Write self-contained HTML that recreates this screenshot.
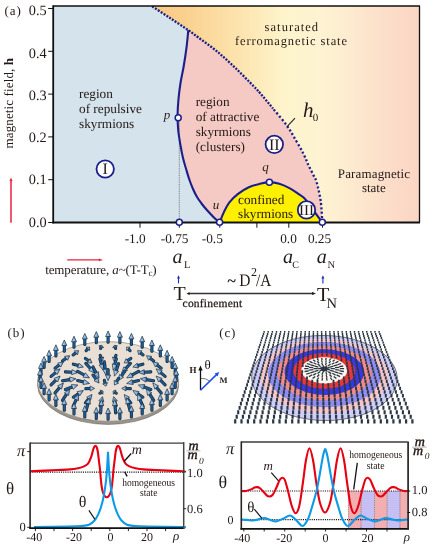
<!DOCTYPE html>
<html><head><meta charset="utf-8"><title>Skyrmion phase diagram</title>
<style>
html,body{margin:0;padding:0;background:#fff;}
svg{display:block;}
svg text{font-family:"Liberation Serif","DejaVu Serif",serif;fill:#231815;text-rendering:geometricPrecision;}
</style></head>
<body>
<svg width="433" height="550" viewBox="0 0 433 550">
<rect width="433" height="550" fill="#fff"/>
<g id="panel-a">
<defs>
<linearGradient id="bg" gradientUnits="userSpaceOnUse" x1="150" y1="0" x2="420" y2="0"><stop offset="0" stop-color="#f9c880"/><stop offset="0.12" stop-color="#fad08f"/><stop offset="0.3" stop-color="#fce1a9"/><stop offset="0.5" stop-color="#fef4cc"/><stop offset="0.63" stop-color="#fef3d2"/><stop offset="0.73" stop-color="#fdecd0"/><stop offset="0.86" stop-color="#fcdfca"/><stop offset="1" stop-color="#fbd5c4"/></linearGradient>
</defs>
<rect x="53.2" y="6.0" width="366.3" height="216.5" fill="url(#bg)"/>
<path d="M53.2,222.5 L53.2,6.0 L152.3,6 L152.30,6.50 C155.25,8.42 164.00,14.05 170.00,18.00 C176.00,21.95 185.25,28.17 188.30,30.20 C188.00,33.12 187.27,41.70 186.50,47.70 C185.73,53.70 184.70,60.32 183.70,66.20 C182.70,72.08 181.38,77.37 180.50,83.00 C179.62,88.63 178.88,94.67 178.40,100.00 C177.92,105.33 177.63,110.00 177.60,115.00 C177.57,120.00 177.72,124.93 178.20,130.00 C178.68,135.07 179.70,140.73 180.50,145.40 C181.30,150.07 182.02,153.90 183.00,158.00 C183.98,162.10 185.32,166.33 186.40,170.00 C187.48,173.67 188.40,176.83 189.50,180.00 C190.60,183.17 191.75,186.17 193.00,189.00 C194.25,191.83 195.58,194.58 197.00,197.00 C198.42,199.42 200.00,201.50 201.50,203.50 C203.00,205.50 204.42,207.17 206.00,209.00 C207.58,210.83 209.42,212.83 211.00,214.50 C212.58,216.17 214.07,217.68 215.50,219.00 C216.93,220.32 218.92,221.83 219.60,222.40 Z" fill="#d5e3ec"/>
<path d="M188.30,30.20 C190.00,31.43 193.72,34.07 198.50,37.60 C203.28,41.13 210.85,46.33 217.00,51.40 C223.15,56.47 229.25,62.15 235.40,68.00 C241.55,73.85 249.80,82.33 253.90,86.50 C258.00,90.67 256.82,89.33 260.00,93.00 C263.18,96.67 268.50,103.03 273.00,108.50 C277.50,113.97 283.17,120.47 287.00,125.80 C290.83,131.13 293.25,135.83 296.00,140.50 C298.75,145.17 301.43,149.72 303.50,153.80 C305.57,157.88 306.72,161.40 308.40,165.00 C310.08,168.60 312.22,172.48 313.60,175.40 C314.98,178.32 315.52,178.23 316.70,182.50 C317.88,186.77 319.77,194.35 320.70,201.00 C321.63,207.65 322.03,218.83 322.30,222.40 L219.6,222.4  C218.92,221.83 216.93,220.32 215.50,219.00 C214.07,217.68 212.58,216.17 211.00,214.50 C209.42,212.83 207.58,210.83 206.00,209.00 C204.42,207.17 203.00,205.50 201.50,203.50 C200.00,201.50 198.42,199.42 197.00,197.00 C195.58,194.58 194.25,191.83 193.00,189.00 C191.75,186.17 190.60,183.17 189.50,180.00 C188.40,176.83 187.48,173.67 186.40,170.00 C185.32,166.33 183.98,162.10 183.00,158.00 C182.02,153.90 181.30,150.07 180.50,145.40 C179.70,140.73 178.68,135.07 178.20,130.00 C177.72,124.93 177.57,120.00 177.60,115.00 C177.63,110.00 177.92,105.33 178.40,100.00 C178.88,94.67 179.62,88.63 180.50,83.00 C181.38,77.37 182.70,72.08 183.70,66.20 C184.70,60.32 185.73,53.70 186.50,47.70 C187.27,41.70 188.00,33.12 188.30,30.20 Z" fill="#f6cac4"/>
<path d="M219.60,222.40 C220.32,220.68 222.27,215.43 223.90,212.10 C225.53,208.77 227.10,205.40 229.40,202.40 C231.70,199.40 234.47,196.63 237.70,194.10 C240.93,191.57 245.10,188.92 248.80,187.20 C252.50,185.48 256.48,184.60 259.90,183.80 C263.32,183.00 266.07,182.40 269.30,182.40 C272.53,182.40 275.78,182.77 279.30,183.80 C282.82,184.83 287.17,186.88 290.40,188.60 C293.63,190.32 296.17,192.27 298.70,194.10 C301.23,195.93 302.60,196.13 305.60,199.60 C308.60,203.07 313.92,211.10 316.70,214.90 C319.48,218.70 321.37,221.15 322.30,222.40 Z" fill="#fff000"/>
<line x1="179.3" y1="121" x2="179.3" y2="222" stroke="#555" stroke-width="0.7" stroke-dasharray="1 0.8"/>
<path d="M188.30,30.20 C188.00,33.12 187.27,41.70 186.50,47.70 C185.73,53.70 184.70,60.32 183.70,66.20 C182.70,72.08 181.38,77.37 180.50,83.00 C179.62,88.63 178.88,94.67 178.40,100.00 C177.92,105.33 177.63,110.00 177.60,115.00 C177.57,120.00 177.72,124.93 178.20,130.00 C178.68,135.07 179.70,140.73 180.50,145.40 C181.30,150.07 182.02,153.90 183.00,158.00 C183.98,162.10 185.32,166.33 186.40,170.00 C187.48,173.67 188.40,176.83 189.50,180.00 C190.60,183.17 191.75,186.17 193.00,189.00 C194.25,191.83 195.58,194.58 197.00,197.00 C198.42,199.42 200.00,201.50 201.50,203.50 C203.00,205.50 204.42,207.17 206.00,209.00 C207.58,210.83 209.42,212.83 211.00,214.50 C212.58,216.17 214.07,217.68 215.50,219.00 C216.93,220.32 218.92,221.83 219.60,222.40" fill="none" stroke="#1b1f8a" stroke-width="2.1"/>
<path d="M219.60,222.40 C220.32,220.68 222.27,215.43 223.90,212.10 C225.53,208.77 227.10,205.40 229.40,202.40 C231.70,199.40 234.47,196.63 237.70,194.10 C240.93,191.57 245.10,188.92 248.80,187.20 C252.50,185.48 256.48,184.60 259.90,183.80 C263.32,183.00 266.07,182.40 269.30,182.40 C272.53,182.40 275.78,182.77 279.30,183.80 C282.82,184.83 287.17,186.88 290.40,188.60 C293.63,190.32 296.17,192.27 298.70,194.10 C301.23,195.93 302.60,196.13 305.60,199.60 C308.60,203.07 313.92,211.10 316.70,214.90 C319.48,218.70 321.37,221.15 322.30,222.40" fill="none" stroke="#1b1f8a" stroke-width="2.1"/>
<path d="M152.30,6.50 C155.25,8.42 164.00,14.05 170.00,18.00 C176.00,21.95 183.55,26.93 188.30,30.20 C193.05,33.47 193.72,34.07 198.50,37.60 C203.28,41.13 210.85,46.33 217.00,51.40 C223.15,56.47 229.25,62.15 235.40,68.00 C241.55,73.85 249.80,82.33 253.90,86.50 C258.00,90.67 256.82,89.33 260.00,93.00 C263.18,96.67 268.50,103.03 273.00,108.50" fill="none" stroke="#1b1f8a" stroke-width="2.3" stroke-dasharray="2 1.35"/>
<path d="M273.00,108.50 C277.50,113.97 283.17,120.47 287.00,125.80 C290.83,131.13 293.25,135.83 296.00,140.50 C298.75,145.17 301.43,149.72 303.50,153.80 C305.57,157.88 306.72,161.40 308.40,165.00 C310.08,168.60 312.22,172.48 313.60,175.40 C314.98,178.32 315.52,178.23 316.70,182.50 C317.88,186.77 319.77,194.35 320.70,201.00 C321.63,207.65 322.03,218.83 322.30,222.40" fill="none" stroke="#1b1f8a" stroke-width="2.3" stroke-dasharray="2.1 2.15" stroke-dashoffset="-1.2"/>
<line x1="53.2" y1="5.3" x2="53.2" y2="223.4" stroke="#111" stroke-width="1.8"/>
<line x1="52.3" y1="222.5" x2="420.0" y2="222.5" stroke="#111" stroke-width="1.8"/>
<line x1="53.2" y1="6.0" x2="420.0" y2="6.0" stroke="#111" stroke-width="1.4"/>
<line x1="419.5" y1="6.0" x2="419.5" y2="222.5" stroke="#111" stroke-width="1.3"/>
<line x1="48.2" y1="222.5" x2="53" y2="222.5" stroke="#111" stroke-width="1"/>
<line x1="48.2" y1="179.7" x2="53" y2="179.7" stroke="#111" stroke-width="1"/>
<line x1="48.2" y1="136.9" x2="53" y2="136.9" stroke="#111" stroke-width="1"/>
<line x1="48.2" y1="94.1" x2="53" y2="94.1" stroke="#111" stroke-width="1"/>
<line x1="48.2" y1="51.3" x2="53" y2="51.3" stroke="#111" stroke-width="1"/>
<line x1="48.2" y1="8.5" x2="53" y2="8.5" stroke="#111" stroke-width="1"/>
<text x="28.8" y="227.0" font-size="14.3">0.0</text>
<text x="28.8" y="184.0" font-size="14.3">0.1</text>
<text x="28.8" y="142.0" font-size="14.3">0.2</text>
<text x="28.8" y="100.0" font-size="14.3">0.3</text>
<text x="28.8" y="57.6" font-size="14.3">0.4</text>
<text x="28.8" y="14.5" font-size="14.3">0.5</text>
<line x1="140.0" y1="223" x2="140.0" y2="227.7" stroke="#111" stroke-width="1"/>
<line x1="179.3" y1="223" x2="179.3" y2="227.7" stroke="#111" stroke-width="1"/>
<line x1="219.8" y1="223" x2="219.8" y2="227.7" stroke="#111" stroke-width="1"/>
<line x1="256.9" y1="223" x2="256.9" y2="227.7" stroke="#111" stroke-width="1"/>
<line x1="288.8" y1="223" x2="288.8" y2="227.7" stroke="#111" stroke-width="1"/>
<line x1="322.5" y1="223" x2="322.5" y2="227.7" stroke="#111" stroke-width="1"/>
<text x="124.7" y="243.4" font-size="13.3">-1.0</text>
<text x="160.8" y="243.4" font-size="13.3">-0.75</text>
<text x="201.8" y="243.4" font-size="13.3">-0.5</text>
<text x="280.2" y="243.4" font-size="13.3">0.0</text>
<text x="307.9" y="243.4" font-size="13.3">0.25</text>
<circle cx="179.3" cy="222.2" r="3" fill="#fff" stroke="#1b1f8a" stroke-width="1.5"/>
<circle cx="219.6" cy="222.2" r="3" fill="#fff" stroke="#1b1f8a" stroke-width="1.5"/>
<circle cx="322.3" cy="222.3" r="3" fill="#fff" stroke="#1b1f8a" stroke-width="1.5"/>
<circle cx="178.2" cy="117.8" r="3" fill="#fff" stroke="#1b1f8a" stroke-width="1.5"/>
<circle cx="269.4" cy="182.3" r="3" fill="#fff" stroke="#1b1f8a" stroke-width="1.5"/>
<circle cx="105.2" cy="169.0" r="8.7" fill="#fff" stroke="#1b1f8a" stroke-width="1.8"/>
<text x="105.2" y="174.2" font-size="16" text-anchor="middle">I</text>
<circle cx="274.3" cy="144.4" r="8.7" fill="#fff" stroke="#1b1f8a" stroke-width="1.8"/>
<text x="274.3" y="149.6" font-size="16" text-anchor="middle">II</text>
<circle cx="306.5" cy="209.9" r="8.7" fill="#fff" stroke="#1b1f8a" stroke-width="1.8"/>
<text x="306.5" y="215.1" font-size="15" text-anchor="middle">III</text>
<text x="79.0" y="98.0" font-size="13.25" text-anchor="start">region</text>
<text x="79.0" y="112.7" font-size="13.25" text-anchor="start">of repulsive</text>
<text x="79.0" y="127.7" font-size="13.25" text-anchor="start">skyrmions</text>
<text x="195.7" y="106.0" font-size="13.25" text-anchor="start">region</text>
<text x="195.7" y="121.2" font-size="13.25" text-anchor="start">of attractive</text>
<text x="195.7" y="136.0" font-size="13.25" text-anchor="start">skyrmions</text>
<text x="195.7" y="150.6" font-size="13.25" text-anchor="start">(clusters)</text>
<text x="238.0" y="204.3" font-size="13.25" text-anchor="start">confined</text>
<text x="238.0" y="218.4" font-size="13.25" text-anchor="start">skyrmions</text>
<text x="264.6" y="30.8" font-size="12.5" textLength="53.5">saturated</text>
<text x="235" y="44.7" font-size="12.5" textLength="112">ferromagnetic state</text>
<text x="337.8" y="177.9" font-size="13" textLength="72.3">Paramagnetic</text>
<text x="361.9" y="191.9" font-size="13">state</text>
<text x="163.8" y="119" font-size="13" font-style="italic">p</text>
<text x="212.8" y="209.3" font-size="13" font-style="italic">u</text>
<text x="262.3" y="171" font-size="13" font-style="italic">q</text>
<text x="303" y="117" font-size="21" font-style="italic">h</text>
<text x="312.7" y="120.9" font-size="11">0</text>
<line x1="287.5" y1="126.2" x2="295" y2="118.1" stroke="#222" stroke-width="1.1"/>
<text x="4.6" y="15.2" font-size="13" textLength="16.2">(a)</text>
<text transform="translate(13.3,148.5) rotate(-90)" font-size="13" textLength="90.6">magnetic field, <tspan font-weight="bold">h</tspan></text>
<line x1="11" y1="222.8" x2="11" y2="179.5" stroke="#e9213e" stroke-width="1.5"/>
<path d="M11,177.6 L12.5,181 L9.5,181 Z" fill="#e9213e"/>
<line x1="67.2" y1="259.8" x2="100" y2="259.8" stroke="#e9213e" stroke-width="1.3"/>
<path d="M103,259.9 L98.8,258.5 L98.8,261.3 Z" fill="#e9213e"/>
<text x="45.2" y="273.5" font-size="13" textLength="111.5">temperature, <tspan font-style="italic">a</tspan>~(T-T<tspan font-size="9" dy="2">c</tspan><tspan dy="-2">)</tspan></text>
<text x="172.6" y="262.6" font-size="20" font-style="italic">a</text>
<text x="184.0" y="267.6" font-size="10.5">L</text>
<text x="283.0" y="262.6" font-size="20" font-style="italic">a</text>
<text x="292.2" y="267.6" font-size="10">C</text>
<text x="316.8" y="262.6" font-size="20" font-style="italic">a</text>
<text x="327.6" y="267.6" font-size="10.5">N</text>
<line x1="178.5" y1="283.4" x2="178.5" y2="278" stroke="#1f2fae" stroke-width="1.1"/>
<path d="M178.5,275.2 L180.0,278.6 L177.0,278.6 Z" fill="#1f2fae"/>
<line x1="322.9" y1="283.4" x2="322.9" y2="278" stroke="#1f2fae" stroke-width="1.1"/>
<path d="M322.9,275.2 L324.4,278.6 L321.4,278.6 Z" fill="#1f2fae"/>
<text x="173.6" y="300.3" font-size="20">T</text>
<text x="182.6" y="307.4" font-size="11.5" stroke="#231815" stroke-width="0.25" textLength="59.5">confinement</text>
<text x="317" y="300.8" font-size="20">T</text>
<text x="326.6" y="308.4" font-size="14.5">N</text>
<line x1="188" y1="293.5" x2="314" y2="293.5" stroke="#333" stroke-width="1.3"/>
<path d="M316,293.5 L312,292 L312,295 Z" fill="#222"/>
<path d="M186.4,293.6 L189.6,292.3 L189.6,294.9 Z" fill="#222"/>
<text x="227.6" y="286.4" font-size="16" font-weight="bold">~</text>
<text x="239.2" y="286" font-size="17.5" textLength="11.2" lengthAdjust="spacingAndGlyphs">D</text>
<text x="251" y="276.4" font-size="12">2</text>
<text x="256" y="286" font-size="17.5" textLength="15.3" lengthAdjust="spacingAndGlyphs">/A</text>
</g>
<g id="panel-b">
<text x="7.6" y="336.5" font-size="13" textLength="17">(b)</text>
<defs><linearGradient id="cg" x1="0" y1="0" x2="1" y2="0"><stop offset="0" stop-color="#c9e1f6"/><stop offset="0.55" stop-color="#8db9e1"/><stop offset="1" stop-color="#5f8fc4"/></linearGradient></defs>
<ellipse cx="108.1" cy="384.5" rx="70.6" ry="39.9" fill="#9a948e" stroke="#6b6661" stroke-width="0.6"/>
<ellipse cx="108.1" cy="381.5" rx="70.6" ry="39.9" fill="#e9dfd4" stroke="#7a756f" stroke-width="0.6"/>
<line x1="108.1" y1="342.2" x2="108.1" y2="336.6" stroke="#0f2438" stroke-width="3.1" stroke-linecap="round"/>
<line x1="108.1" y1="342.2" x2="108.1" y2="336.6" stroke="#1c5a90" stroke-width="1.9" stroke-linecap="round"/>
<path d="M108.1,331.0 L110.6,336.6 L105.6,336.6 Z" fill="url(#cg)" stroke="#13283c" stroke-width="0.7" stroke-linejoin="round"/>
<line x1="119.9" y1="342.8" x2="119.9" y2="337.2" stroke="#0f2438" stroke-width="3.1" stroke-linecap="round"/>
<line x1="119.9" y1="342.8" x2="119.9" y2="337.2" stroke="#1c5a90" stroke-width="1.9" stroke-linecap="round"/>
<path d="M119.9,331.6 L122.4,337.2 L117.4,337.2 Z" fill="url(#cg)" stroke="#13283c" stroke-width="0.7" stroke-linejoin="round"/>
<line x1="96.3" y1="342.8" x2="96.3" y2="337.2" stroke="#0f2438" stroke-width="3.1" stroke-linecap="round"/>
<line x1="96.3" y1="342.8" x2="96.3" y2="337.2" stroke="#1c5a90" stroke-width="1.9" stroke-linecap="round"/>
<path d="M96.3,331.6 L98.8,337.2 L93.8,337.2 Z" fill="url(#cg)" stroke="#13283c" stroke-width="0.7" stroke-linejoin="round"/>
<line x1="131.4" y1="344.5" x2="131.4" y2="338.9" stroke="#0f2438" stroke-width="3.1" stroke-linecap="round"/>
<line x1="131.4" y1="344.5" x2="131.4" y2="338.9" stroke="#1c5a90" stroke-width="1.9" stroke-linecap="round"/>
<path d="M131.4,333.4 L133.9,338.9 L128.9,338.9 Z" fill="url(#cg)" stroke="#13283c" stroke-width="0.7" stroke-linejoin="round"/>
<line x1="84.8" y1="344.5" x2="84.8" y2="338.9" stroke="#0f2438" stroke-width="3.1" stroke-linecap="round"/>
<line x1="84.8" y1="344.5" x2="84.8" y2="338.9" stroke="#1c5a90" stroke-width="1.9" stroke-linecap="round"/>
<path d="M84.8,333.4 L87.3,338.9 L82.3,338.9 Z" fill="url(#cg)" stroke="#13283c" stroke-width="0.7" stroke-linejoin="round"/>
<line x1="74.0" y1="347.3" x2="74.0" y2="341.8" stroke="#0f2438" stroke-width="3.1" stroke-linecap="round"/>
<line x1="74.0" y1="347.3" x2="74.0" y2="341.8" stroke="#1c5a90" stroke-width="1.9" stroke-linecap="round"/>
<path d="M74.0,336.2 L76.5,341.8 L71.5,341.8 Z" fill="url(#cg)" stroke="#13283c" stroke-width="0.7" stroke-linejoin="round"/>
<line x1="142.2" y1="347.3" x2="142.2" y2="341.8" stroke="#0f2438" stroke-width="3.1" stroke-linecap="round"/>
<line x1="142.2" y1="347.3" x2="142.2" y2="341.8" stroke="#1c5a90" stroke-width="1.9" stroke-linecap="round"/>
<path d="M142.2,336.2 L144.7,341.8 L139.7,341.8 Z" fill="url(#cg)" stroke="#13283c" stroke-width="0.7" stroke-linejoin="round"/>
<line x1="115.6" y1="348.5" x2="115.0" y2="346.9" stroke="#0f2438" stroke-width="3.1" stroke-linecap="round"/>
<line x1="115.6" y1="348.5" x2="115.0" y2="346.9" stroke="#1c5a90" stroke-width="1.9" stroke-linecap="round"/>
<path d="M114.4,345.3 L117.4,346.0 L112.7,347.7 Z" fill="url(#cg)" stroke="#13283c" stroke-width="0.7" stroke-linejoin="round"/>
<line x1="100.6" y1="348.5" x2="101.2" y2="346.9" stroke="#0f2438" stroke-width="3.1" stroke-linecap="round"/>
<line x1="100.6" y1="348.5" x2="101.2" y2="346.9" stroke="#1c5a90" stroke-width="1.9" stroke-linecap="round"/>
<path d="M101.8,345.3 L103.5,347.7 L98.8,346.0 Z" fill="url(#cg)" stroke="#13283c" stroke-width="0.7" stroke-linejoin="round"/>
<line x1="151.9" y1="351.2" x2="151.9" y2="345.6" stroke="#0f2438" stroke-width="3.1" stroke-linecap="round"/>
<line x1="151.9" y1="351.2" x2="151.9" y2="345.6" stroke="#1c5a90" stroke-width="1.9" stroke-linecap="round"/>
<path d="M151.9,340.0 L154.4,345.6 L149.4,345.6 Z" fill="url(#cg)" stroke="#13283c" stroke-width="0.7" stroke-linejoin="round"/>
<line x1="64.3" y1="351.2" x2="64.3" y2="345.6" stroke="#0f2438" stroke-width="3.1" stroke-linecap="round"/>
<line x1="64.3" y1="351.2" x2="64.3" y2="345.6" stroke="#1c5a90" stroke-width="1.9" stroke-linecap="round"/>
<path d="M64.3,340.0 L66.8,345.6 L61.8,345.6 Z" fill="url(#cg)" stroke="#13283c" stroke-width="0.7" stroke-linejoin="round"/>
<line x1="86.1" y1="350.7" x2="87.8" y2="348.9" stroke="#0f2438" stroke-width="3.1" stroke-linecap="round"/>
<line x1="86.1" y1="350.7" x2="87.8" y2="348.9" stroke="#1c5a90" stroke-width="1.9" stroke-linecap="round"/>
<path d="M89.6,347.1 L89.6,350.6 L86.0,347.1 Z" fill="url(#cg)" stroke="#13283c" stroke-width="0.7" stroke-linejoin="round"/>
<line x1="130.1" y1="350.7" x2="128.4" y2="348.9" stroke="#0f2438" stroke-width="3.1" stroke-linecap="round"/>
<line x1="130.1" y1="350.7" x2="128.4" y2="348.9" stroke="#1c5a90" stroke-width="1.9" stroke-linecap="round"/>
<path d="M126.6,347.1 L130.2,347.1 L126.6,350.6 Z" fill="url(#cg)" stroke="#13283c" stroke-width="0.7" stroke-linejoin="round"/>
<line x1="55.9" y1="355.9" x2="55.9" y2="350.4" stroke="#0f2438" stroke-width="3.1" stroke-linecap="round"/>
<line x1="55.9" y1="355.9" x2="55.9" y2="350.4" stroke="#1c5a90" stroke-width="1.9" stroke-linecap="round"/>
<path d="M55.9,344.8 L58.4,350.4 L53.4,350.4 Z" fill="url(#cg)" stroke="#13283c" stroke-width="0.7" stroke-linejoin="round"/>
<line x1="160.3" y1="355.9" x2="160.3" y2="350.4" stroke="#0f2438" stroke-width="3.1" stroke-linecap="round"/>
<line x1="160.3" y1="355.9" x2="160.3" y2="350.4" stroke="#1c5a90" stroke-width="1.9" stroke-linecap="round"/>
<path d="M160.3,344.8 L162.8,350.4 L157.8,350.4 Z" fill="url(#cg)" stroke="#13283c" stroke-width="0.7" stroke-linejoin="round"/>
<line x1="143.1" y1="354.9" x2="140.3" y2="352.8" stroke="#0f2438" stroke-width="3.1" stroke-linecap="round"/>
<line x1="143.1" y1="354.9" x2="140.3" y2="352.8" stroke="#1c5a90" stroke-width="1.9" stroke-linecap="round"/>
<path d="M137.6,350.7 L141.9,350.8 L138.8,354.8 Z" fill="url(#cg)" stroke="#13283c" stroke-width="0.7" stroke-linejoin="round"/>
<line x1="73.1" y1="354.9" x2="75.9" y2="352.8" stroke="#0f2438" stroke-width="3.1" stroke-linecap="round"/>
<line x1="73.1" y1="354.9" x2="75.9" y2="352.8" stroke="#1c5a90" stroke-width="1.9" stroke-linecap="round"/>
<path d="M78.6,350.7 L77.4,354.8 L74.3,350.8 Z" fill="url(#cg)" stroke="#13283c" stroke-width="0.7" stroke-linejoin="round"/>
<line x1="116.0" y1="355.4" x2="114.8" y2="358.1" stroke="#0f2438" stroke-width="3.1" stroke-linecap="round"/>
<line x1="116.0" y1="355.4" x2="114.8" y2="358.1" stroke="#1c5a90" stroke-width="1.9" stroke-linecap="round"/>
<path d="M113.7,360.8 L112.5,357.1 L117.1,359.1 Z" fill="url(#cg)" stroke="#13283c" stroke-width="0.7" stroke-linejoin="round"/>
<line x1="100.2" y1="355.4" x2="101.4" y2="358.1" stroke="#0f2438" stroke-width="3.1" stroke-linecap="round"/>
<line x1="100.2" y1="355.4" x2="101.4" y2="358.1" stroke="#1c5a90" stroke-width="1.9" stroke-linecap="round"/>
<path d="M102.5,360.8 L99.1,359.1 L103.7,357.1 Z" fill="url(#cg)" stroke="#13283c" stroke-width="0.7" stroke-linejoin="round"/>
<line x1="49.1" y1="361.4" x2="49.1" y2="355.9" stroke="#0f2438" stroke-width="3.1" stroke-linecap="round"/>
<line x1="49.1" y1="361.4" x2="49.1" y2="355.9" stroke="#1c5a90" stroke-width="1.9" stroke-linecap="round"/>
<path d="M49.1,350.3 L51.6,355.9 L46.6,355.9 Z" fill="url(#cg)" stroke="#13283c" stroke-width="0.7" stroke-linejoin="round"/>
<line x1="167.1" y1="361.4" x2="167.1" y2="355.9" stroke="#0f2438" stroke-width="3.1" stroke-linecap="round"/>
<line x1="167.1" y1="361.4" x2="167.1" y2="355.9" stroke="#1c5a90" stroke-width="1.9" stroke-linecap="round"/>
<path d="M167.1,350.3 L169.6,355.9 L164.6,355.9 Z" fill="url(#cg)" stroke="#13283c" stroke-width="0.7" stroke-linejoin="round"/>
<line x1="85.4" y1="358.4" x2="88.7" y2="360.7" stroke="#0f2438" stroke-width="3.1" stroke-linecap="round"/>
<line x1="85.4" y1="358.4" x2="88.7" y2="360.7" stroke="#1c5a90" stroke-width="1.9" stroke-linecap="round"/>
<path d="M92.0,363.0 L87.3,362.8 L90.1,358.6 Z" fill="url(#cg)" stroke="#13283c" stroke-width="0.7" stroke-linejoin="round"/>
<line x1="130.8" y1="358.4" x2="127.5" y2="360.7" stroke="#0f2438" stroke-width="3.1" stroke-linecap="round"/>
<line x1="130.8" y1="358.4" x2="127.5" y2="360.7" stroke="#1c5a90" stroke-width="1.9" stroke-linecap="round"/>
<path d="M124.2,363.0 L126.1,358.6 L128.9,362.8 Z" fill="url(#cg)" stroke="#13283c" stroke-width="0.7" stroke-linejoin="round"/>
<line x1="62.5" y1="360.9" x2="66.1" y2="358.3" stroke="#0f2438" stroke-width="3.1" stroke-linecap="round"/>
<line x1="62.5" y1="360.9" x2="66.1" y2="358.3" stroke="#1c5a90" stroke-width="1.9" stroke-linecap="round"/>
<path d="M69.7,355.7 L67.6,360.3 L64.6,356.3 Z" fill="url(#cg)" stroke="#13283c" stroke-width="0.7" stroke-linejoin="round"/>
<line x1="153.7" y1="360.9" x2="150.1" y2="358.3" stroke="#0f2438" stroke-width="3.1" stroke-linecap="round"/>
<line x1="153.7" y1="360.9" x2="150.1" y2="358.3" stroke="#1c5a90" stroke-width="1.9" stroke-linecap="round"/>
<path d="M146.5,355.7 L151.6,356.3 L148.6,360.3 Z" fill="url(#cg)" stroke="#13283c" stroke-width="0.7" stroke-linejoin="round"/>
<line x1="73.3" y1="364.2" x2="78.4" y2="365.6" stroke="#0f2438" stroke-width="3.1" stroke-linecap="round"/>
<line x1="73.3" y1="364.2" x2="78.4" y2="365.6" stroke="#1c5a90" stroke-width="1.9" stroke-linecap="round"/>
<path d="M83.4,367.0 L77.7,368.0 L79.0,363.2 Z" fill="url(#cg)" stroke="#13283c" stroke-width="0.7" stroke-linejoin="round"/>
<line x1="142.9" y1="364.2" x2="137.8" y2="365.6" stroke="#0f2438" stroke-width="3.1" stroke-linecap="round"/>
<line x1="142.9" y1="364.2" x2="137.8" y2="365.6" stroke="#1c5a90" stroke-width="1.9" stroke-linecap="round"/>
<path d="M132.8,367.0 L137.2,363.2 L138.5,368.0 Z" fill="url(#cg)" stroke="#13283c" stroke-width="0.7" stroke-linejoin="round"/>
<line x1="116.3" y1="358.8" x2="114.7" y2="364.4" stroke="#0f2438" stroke-width="3.1" stroke-linecap="round"/>
<line x1="116.3" y1="358.8" x2="114.7" y2="364.4" stroke="#1c5a90" stroke-width="1.9" stroke-linecap="round"/>
<path d="M113.1,370.1 L112.3,363.8 L117.1,365.1 Z" fill="url(#cg)" stroke="#13283c" stroke-width="0.7" stroke-linejoin="round"/>
<line x1="99.9" y1="358.8" x2="101.5" y2="364.4" stroke="#0f2438" stroke-width="3.1" stroke-linecap="round"/>
<line x1="99.9" y1="358.8" x2="101.5" y2="364.4" stroke="#1c5a90" stroke-width="1.9" stroke-linecap="round"/>
<path d="M103.1,370.1 L99.1,365.1 L103.9,363.8 Z" fill="url(#cg)" stroke="#13283c" stroke-width="0.7" stroke-linejoin="round"/>
<line x1="44.1" y1="367.5" x2="44.1" y2="361.9" stroke="#0f2438" stroke-width="3.1" stroke-linecap="round"/>
<line x1="44.1" y1="367.5" x2="44.1" y2="361.9" stroke="#1c5a90" stroke-width="1.9" stroke-linecap="round"/>
<path d="M44.1,356.4 L46.6,361.9 L41.6,361.9 Z" fill="url(#cg)" stroke="#13283c" stroke-width="0.7" stroke-linejoin="round"/>
<line x1="172.1" y1="367.5" x2="172.1" y2="361.9" stroke="#0f2438" stroke-width="3.1" stroke-linecap="round"/>
<line x1="172.1" y1="367.5" x2="172.1" y2="361.9" stroke="#1c5a90" stroke-width="1.9" stroke-linecap="round"/>
<path d="M172.1,356.4 L174.6,361.9 L169.6,361.9 Z" fill="url(#cg)" stroke="#13283c" stroke-width="0.7" stroke-linejoin="round"/>
<line x1="55.0" y1="368.2" x2="59.2" y2="365.1" stroke="#0f2438" stroke-width="3.1" stroke-linecap="round"/>
<line x1="55.0" y1="368.2" x2="59.2" y2="365.1" stroke="#1c5a90" stroke-width="1.9" stroke-linecap="round"/>
<path d="M63.4,361.9 L60.7,367.1 L57.7,363.1 Z" fill="url(#cg)" stroke="#13283c" stroke-width="0.7" stroke-linejoin="round"/>
<line x1="161.2" y1="368.2" x2="157.0" y2="365.1" stroke="#0f2438" stroke-width="3.1" stroke-linecap="round"/>
<line x1="161.2" y1="368.2" x2="157.0" y2="365.1" stroke="#1c5a90" stroke-width="1.9" stroke-linecap="round"/>
<path d="M152.8,361.9 L158.5,363.1 L155.5,367.1 Z" fill="url(#cg)" stroke="#13283c" stroke-width="0.7" stroke-linejoin="round"/>
<line x1="85.8" y1="363.4" x2="90.4" y2="368.5" stroke="#0f2438" stroke-width="3.1" stroke-linecap="round"/>
<line x1="85.8" y1="363.4" x2="90.4" y2="368.5" stroke="#1c5a90" stroke-width="1.9" stroke-linecap="round"/>
<path d="M94.5,373.0 L88.6,370.2 L92.3,366.8 Z" fill="url(#cg)" stroke="#13283c" stroke-width="0.7" stroke-linejoin="round"/>
<line x1="130.4" y1="363.4" x2="125.8" y2="368.5" stroke="#0f2438" stroke-width="3.1" stroke-linecap="round"/>
<line x1="130.4" y1="363.4" x2="125.8" y2="368.5" stroke="#1c5a90" stroke-width="1.9" stroke-linecap="round"/>
<path d="M121.7,373.0 L123.9,366.8 L127.6,370.2 Z" fill="url(#cg)" stroke="#13283c" stroke-width="0.7" stroke-linejoin="round"/>
<line x1="65.4" y1="371.9" x2="71.9" y2="372.2" stroke="#0f2438" stroke-width="3.1" stroke-linecap="round"/>
<line x1="65.4" y1="371.9" x2="71.9" y2="372.2" stroke="#1c5a90" stroke-width="1.9" stroke-linecap="round"/>
<path d="M77.9,372.5 L71.7,374.7 L72.0,369.7 Z" fill="url(#cg)" stroke="#13283c" stroke-width="0.7" stroke-linejoin="round"/>
<line x1="150.8" y1="371.9" x2="144.3" y2="372.2" stroke="#0f2438" stroke-width="3.1" stroke-linecap="round"/>
<line x1="150.8" y1="371.9" x2="144.3" y2="372.2" stroke="#1c5a90" stroke-width="1.9" stroke-linecap="round"/>
<path d="M138.3,372.5 L144.2,369.7 L144.5,374.7 Z" fill="url(#cg)" stroke="#13283c" stroke-width="0.7" stroke-linejoin="round"/>
<line x1="104.4" y1="361.8" x2="105.2" y2="369.2" stroke="#0f2438" stroke-width="3.1" stroke-linecap="round"/>
<line x1="104.4" y1="361.8" x2="105.2" y2="369.2" stroke="#1c5a90" stroke-width="1.9" stroke-linecap="round"/>
<path d="M105.9,375.1 L102.7,369.5 L107.7,368.9 Z" fill="url(#cg)" stroke="#13283c" stroke-width="0.7" stroke-linejoin="round"/>
<line x1="175.2" y1="374.0" x2="175.2" y2="368.4" stroke="#0f2438" stroke-width="3.1" stroke-linecap="round"/>
<line x1="175.2" y1="374.0" x2="175.2" y2="368.4" stroke="#1c5a90" stroke-width="1.9" stroke-linecap="round"/>
<path d="M175.2,362.9 L177.7,368.4 L172.7,368.4 Z" fill="url(#cg)" stroke="#13283c" stroke-width="0.7" stroke-linejoin="round"/>
<line x1="41.0" y1="374.0" x2="41.0" y2="368.4" stroke="#0f2438" stroke-width="3.1" stroke-linecap="round"/>
<line x1="41.0" y1="374.0" x2="41.0" y2="368.4" stroke="#1c5a90" stroke-width="1.9" stroke-linecap="round"/>
<path d="M41.0,362.9 L43.5,368.4 L38.5,368.4 Z" fill="url(#cg)" stroke="#13283c" stroke-width="0.7" stroke-linejoin="round"/>
<line x1="118.6" y1="363.6" x2="116.3" y2="370.5" stroke="#0f2438" stroke-width="3.1" stroke-linecap="round"/>
<line x1="118.6" y1="363.6" x2="116.3" y2="370.5" stroke="#1c5a90" stroke-width="1.9" stroke-linecap="round"/>
<path d="M114.4,376.2 L113.9,369.8 L118.6,371.3 Z" fill="url(#cg)" stroke="#13283c" stroke-width="0.7" stroke-linejoin="round"/>
<line x1="51.1" y1="376.4" x2="55.6" y2="372.6" stroke="#0f2438" stroke-width="3.1" stroke-linecap="round"/>
<line x1="51.1" y1="376.4" x2="55.6" y2="372.6" stroke="#1c5a90" stroke-width="1.9" stroke-linecap="round"/>
<path d="M60.1,368.8 L57.2,374.5 L54.0,370.7 Z" fill="url(#cg)" stroke="#13283c" stroke-width="0.7" stroke-linejoin="round"/>
<line x1="165.1" y1="376.4" x2="160.6" y2="372.6" stroke="#0f2438" stroke-width="3.1" stroke-linecap="round"/>
<line x1="165.1" y1="376.4" x2="160.6" y2="372.6" stroke="#1c5a90" stroke-width="1.9" stroke-linecap="round"/>
<path d="M156.1,368.8 L162.2,370.7 L159.0,374.5 Z" fill="url(#cg)" stroke="#13283c" stroke-width="0.7" stroke-linejoin="round"/>
<line x1="77.6" y1="371.4" x2="84.2" y2="375.0" stroke="#0f2438" stroke-width="3.1" stroke-linecap="round"/>
<line x1="77.6" y1="371.4" x2="84.2" y2="375.0" stroke="#1c5a90" stroke-width="1.9" stroke-linecap="round"/>
<path d="M89.5,377.9 L83.0,377.2 L85.4,372.8 Z" fill="url(#cg)" stroke="#13283c" stroke-width="0.7" stroke-linejoin="round"/>
<line x1="138.6" y1="371.4" x2="132.0" y2="375.0" stroke="#0f2438" stroke-width="3.1" stroke-linecap="round"/>
<line x1="138.6" y1="371.4" x2="132.0" y2="375.0" stroke="#1c5a90" stroke-width="1.9" stroke-linecap="round"/>
<path d="M126.7,377.9 L130.8,372.8 L133.2,377.2 Z" fill="url(#cg)" stroke="#13283c" stroke-width="0.7" stroke-linejoin="round"/>
<line x1="93.0" y1="366.9" x2="96.2" y2="372.9" stroke="#0f2438" stroke-width="3.1" stroke-linecap="round"/>
<line x1="93.0" y1="366.9" x2="96.2" y2="372.9" stroke="#1c5a90" stroke-width="1.9" stroke-linecap="round"/>
<path d="M99.1,378.2 L94.0,374.1 L98.4,371.7 Z" fill="url(#cg)" stroke="#13283c" stroke-width="0.7" stroke-linejoin="round"/>
<line x1="40.0" y1="380.7" x2="40.0" y2="375.1" stroke="#0f2438" stroke-width="3.1" stroke-linecap="round"/>
<line x1="40.0" y1="380.7" x2="40.0" y2="375.1" stroke="#1c5a90" stroke-width="1.9" stroke-linecap="round"/>
<path d="M40.0,369.5 L42.5,375.1 L37.5,375.1 Z" fill="url(#cg)" stroke="#13283c" stroke-width="0.7" stroke-linejoin="round"/>
<line x1="62.6" y1="380.7" x2="70.0" y2="379.6" stroke="#0f2438" stroke-width="3.1" stroke-linecap="round"/>
<line x1="62.6" y1="380.7" x2="70.0" y2="379.6" stroke="#1c5a90" stroke-width="1.9" stroke-linecap="round"/>
<path d="M75.9,378.7 L70.3,382.1 L69.6,377.1 Z" fill="url(#cg)" stroke="#13283c" stroke-width="0.7" stroke-linejoin="round"/>
<line x1="176.2" y1="380.7" x2="176.2" y2="375.1" stroke="#0f2438" stroke-width="3.1" stroke-linecap="round"/>
<line x1="176.2" y1="380.7" x2="176.2" y2="375.1" stroke="#1c5a90" stroke-width="1.9" stroke-linecap="round"/>
<path d="M176.2,369.5 L178.7,375.1 L173.7,375.1 Z" fill="url(#cg)" stroke="#13283c" stroke-width="0.7" stroke-linejoin="round"/>
<line x1="153.6" y1="380.7" x2="146.2" y2="379.6" stroke="#0f2438" stroke-width="3.1" stroke-linecap="round"/>
<line x1="153.6" y1="380.7" x2="146.2" y2="379.6" stroke="#1c5a90" stroke-width="1.9" stroke-linecap="round"/>
<path d="M140.3,378.7 L146.6,377.1 L145.9,382.1 Z" fill="url(#cg)" stroke="#13283c" stroke-width="0.7" stroke-linejoin="round"/>
<line x1="124.9" y1="371.0" x2="121.5" y2="375.9" stroke="#0f2438" stroke-width="3.1" stroke-linecap="round"/>
<line x1="124.9" y1="371.0" x2="121.5" y2="375.9" stroke="#1c5a90" stroke-width="1.9" stroke-linecap="round"/>
<path d="M118.1,380.7 L119.5,374.4 L123.6,377.3 Z" fill="url(#cg)" stroke="#13283c" stroke-width="0.7" stroke-linejoin="round"/>
<line x1="108.1" y1="369.5" x2="108.1" y2="375.1" stroke="#0f2438" stroke-width="3.1" stroke-linecap="round"/>
<line x1="108.1" y1="369.5" x2="108.1" y2="375.1" stroke="#1c5a90" stroke-width="1.9" stroke-linecap="round"/>
<path d="M108.1,380.7 L105.6,375.1 L110.6,375.1 Z" fill="url(#cg)" stroke="#13283c" stroke-width="0.7" stroke-linejoin="round"/>
<line x1="93.0" y1="375.1" x2="96.0" y2="379.1" stroke="#0f2438" stroke-width="3.1" stroke-linecap="round"/>
<line x1="93.0" y1="375.1" x2="96.0" y2="379.1" stroke="#1c5a90" stroke-width="1.9" stroke-linecap="round"/>
<path d="M99.1,383.1 L94.0,380.7 L98.0,377.6 Z" fill="url(#cg)" stroke="#13283c" stroke-width="0.7" stroke-linejoin="round"/>
<line x1="77.6" y1="380.6" x2="83.6" y2="382.1" stroke="#0f2438" stroke-width="3.1" stroke-linecap="round"/>
<line x1="77.6" y1="380.6" x2="83.6" y2="382.1" stroke="#1c5a90" stroke-width="1.9" stroke-linecap="round"/>
<path d="M89.5,383.5 L83.0,384.5 L84.2,379.6 Z" fill="url(#cg)" stroke="#13283c" stroke-width="0.7" stroke-linejoin="round"/>
<line x1="138.6" y1="380.6" x2="132.6" y2="382.1" stroke="#0f2438" stroke-width="3.1" stroke-linecap="round"/>
<line x1="138.6" y1="380.6" x2="132.6" y2="382.1" stroke="#1c5a90" stroke-width="1.9" stroke-linecap="round"/>
<path d="M126.7,383.5 L132.0,379.6 L133.2,384.5 Z" fill="url(#cg)" stroke="#13283c" stroke-width="0.7" stroke-linejoin="round"/>
<line x1="165.1" y1="384.9" x2="160.4" y2="380.2" stroke="#0f2438" stroke-width="3.1" stroke-linecap="round"/>
<line x1="165.1" y1="384.9" x2="160.4" y2="380.2" stroke="#1c5a90" stroke-width="1.9" stroke-linecap="round"/>
<path d="M156.1,376.0 L162.1,378.4 L158.6,382.0 Z" fill="url(#cg)" stroke="#13283c" stroke-width="0.7" stroke-linejoin="round"/>
<line x1="51.1" y1="384.9" x2="55.8" y2="380.2" stroke="#0f2438" stroke-width="3.1" stroke-linecap="round"/>
<line x1="51.1" y1="384.9" x2="55.8" y2="380.2" stroke="#1c5a90" stroke-width="1.9" stroke-linecap="round"/>
<path d="M60.1,376.0 L57.6,382.0 L54.1,378.4 Z" fill="url(#cg)" stroke="#13283c" stroke-width="0.7" stroke-linejoin="round"/>
<line x1="118.6" y1="378.4" x2="116.5" y2="381.8" stroke="#0f2438" stroke-width="3.1" stroke-linecap="round"/>
<line x1="118.6" y1="378.4" x2="116.5" y2="381.8" stroke="#1c5a90" stroke-width="1.9" stroke-linecap="round"/>
<path d="M114.4,385.1 L114.3,380.4 L118.6,383.1 Z" fill="url(#cg)" stroke="#13283c" stroke-width="0.7" stroke-linejoin="round"/>
<line x1="41.0" y1="387.4" x2="41.0" y2="381.8" stroke="#0f2438" stroke-width="3.1" stroke-linecap="round"/>
<line x1="41.0" y1="387.4" x2="41.0" y2="381.8" stroke="#1c5a90" stroke-width="1.9" stroke-linecap="round"/>
<path d="M41.0,376.2 L43.5,381.8 L38.5,381.8 Z" fill="url(#cg)" stroke="#13283c" stroke-width="0.7" stroke-linejoin="round"/>
<line x1="175.2" y1="387.4" x2="175.2" y2="381.8" stroke="#0f2438" stroke-width="3.1" stroke-linecap="round"/>
<line x1="175.2" y1="387.4" x2="175.2" y2="381.8" stroke="#1c5a90" stroke-width="1.9" stroke-linecap="round"/>
<path d="M175.2,376.2 L177.7,381.8 L172.7,381.8 Z" fill="url(#cg)" stroke="#13283c" stroke-width="0.7" stroke-linejoin="round"/>
<line x1="104.4" y1="380.3" x2="105.1" y2="383.2" stroke="#0f2438" stroke-width="3.1" stroke-linecap="round"/>
<line x1="104.4" y1="380.3" x2="105.1" y2="383.2" stroke="#1c5a90" stroke-width="1.9" stroke-linecap="round"/>
<path d="M105.9,386.2 L102.7,383.9 L107.5,382.6 Z" fill="url(#cg)" stroke="#13283c" stroke-width="0.7" stroke-linejoin="round"/>
<line x1="150.8" y1="389.5" x2="144.0" y2="387.0" stroke="#0f2438" stroke-width="3.1" stroke-linecap="round"/>
<line x1="150.8" y1="389.5" x2="144.0" y2="387.0" stroke="#1c5a90" stroke-width="1.9" stroke-linecap="round"/>
<path d="M138.3,385.0 L144.8,384.6 L143.1,389.3 Z" fill="url(#cg)" stroke="#13283c" stroke-width="0.7" stroke-linejoin="round"/>
<line x1="65.4" y1="389.5" x2="72.2" y2="387.0" stroke="#0f2438" stroke-width="3.1" stroke-linecap="round"/>
<line x1="65.4" y1="389.5" x2="72.2" y2="387.0" stroke="#1c5a90" stroke-width="1.9" stroke-linecap="round"/>
<path d="M77.9,385.0 L73.1,389.3 L71.4,384.6 Z" fill="url(#cg)" stroke="#13283c" stroke-width="0.7" stroke-linejoin="round"/>
<line x1="85.8" y1="388.6" x2="90.1" y2="388.5" stroke="#0f2438" stroke-width="3.1" stroke-linecap="round"/>
<line x1="85.8" y1="388.6" x2="90.1" y2="388.5" stroke="#1c5a90" stroke-width="1.9" stroke-linecap="round"/>
<path d="M94.5,388.4 L90.2,391.0 L90.1,386.0 Z" fill="url(#cg)" stroke="#13283c" stroke-width="0.7" stroke-linejoin="round"/>
<line x1="130.4" y1="388.6" x2="126.1" y2="388.5" stroke="#0f2438" stroke-width="3.1" stroke-linecap="round"/>
<line x1="130.4" y1="388.6" x2="126.1" y2="388.5" stroke="#1c5a90" stroke-width="1.9" stroke-linecap="round"/>
<path d="M121.7,388.4 L126.1,386.0 L126.0,391.0 Z" fill="url(#cg)" stroke="#13283c" stroke-width="0.7" stroke-linejoin="round"/>
<line x1="161.2" y1="393.1" x2="156.6" y2="387.5" stroke="#0f2438" stroke-width="3.1" stroke-linecap="round"/>
<line x1="161.2" y1="393.1" x2="156.6" y2="387.5" stroke="#1c5a90" stroke-width="1.9" stroke-linecap="round"/>
<path d="M152.8,382.9 L158.6,385.9 L154.7,389.1 Z" fill="url(#cg)" stroke="#13283c" stroke-width="0.7" stroke-linejoin="round"/>
<line x1="55.0" y1="393.1" x2="59.6" y2="387.5" stroke="#0f2438" stroke-width="3.1" stroke-linecap="round"/>
<line x1="55.0" y1="393.1" x2="59.6" y2="387.5" stroke="#1c5a90" stroke-width="1.9" stroke-linecap="round"/>
<path d="M63.4,382.9 L61.5,389.1 L57.6,385.9 Z" fill="url(#cg)" stroke="#13283c" stroke-width="0.7" stroke-linejoin="round"/>
<line x1="172.1" y1="393.8" x2="172.1" y2="388.3" stroke="#0f2438" stroke-width="3.1" stroke-linecap="round"/>
<line x1="172.1" y1="393.8" x2="172.1" y2="388.3" stroke="#1c5a90" stroke-width="1.9" stroke-linecap="round"/>
<path d="M172.1,382.7 L174.6,388.3 L169.6,388.3 Z" fill="url(#cg)" stroke="#13283c" stroke-width="0.7" stroke-linejoin="round"/>
<line x1="44.1" y1="393.8" x2="44.1" y2="388.3" stroke="#0f2438" stroke-width="3.1" stroke-linecap="round"/>
<line x1="44.1" y1="393.8" x2="44.1" y2="388.3" stroke="#1c5a90" stroke-width="1.9" stroke-linecap="round"/>
<path d="M44.1,382.7 L46.6,388.3 L41.6,388.3 Z" fill="url(#cg)" stroke="#13283c" stroke-width="0.7" stroke-linejoin="round"/>
<line x1="99.9" y1="393.2" x2="101.5" y2="392.2" stroke="#0f2438" stroke-width="3.1" stroke-linecap="round"/>
<line x1="99.9" y1="393.2" x2="101.5" y2="392.2" stroke="#1c5a90" stroke-width="1.9" stroke-linecap="round"/>
<path d="M103.1,391.2 L102.8,394.3 L100.2,390.1 Z" fill="url(#cg)" stroke="#13283c" stroke-width="0.7" stroke-linejoin="round"/>
<line x1="116.3" y1="393.2" x2="114.7" y2="392.2" stroke="#0f2438" stroke-width="3.1" stroke-linecap="round"/>
<line x1="116.3" y1="393.2" x2="114.7" y2="392.2" stroke="#1c5a90" stroke-width="1.9" stroke-linecap="round"/>
<path d="M113.1,391.2 L116.0,390.1 L113.4,394.3 Z" fill="url(#cg)" stroke="#13283c" stroke-width="0.7" stroke-linejoin="round"/>
<line x1="73.3" y1="397.2" x2="78.4" y2="393.8" stroke="#0f2438" stroke-width="3.1" stroke-linecap="round"/>
<line x1="73.3" y1="397.2" x2="78.4" y2="393.8" stroke="#1c5a90" stroke-width="1.9" stroke-linecap="round"/>
<path d="M83.4,390.4 L79.8,395.8 L77.1,391.7 Z" fill="url(#cg)" stroke="#13283c" stroke-width="0.7" stroke-linejoin="round"/>
<line x1="142.9" y1="397.2" x2="137.8" y2="393.8" stroke="#0f2438" stroke-width="3.1" stroke-linecap="round"/>
<line x1="142.9" y1="397.2" x2="137.8" y2="393.8" stroke="#1c5a90" stroke-width="1.9" stroke-linecap="round"/>
<path d="M132.8,390.4 L139.1,391.7 L136.4,395.8 Z" fill="url(#cg)" stroke="#13283c" stroke-width="0.7" stroke-linejoin="round"/>
<line x1="62.5" y1="400.4" x2="66.5" y2="394.1" stroke="#0f2438" stroke-width="3.1" stroke-linecap="round"/>
<line x1="62.5" y1="400.4" x2="66.5" y2="394.1" stroke="#1c5a90" stroke-width="1.9" stroke-linecap="round"/>
<path d="M69.7,389.1 L68.6,395.5 L64.4,392.8 Z" fill="url(#cg)" stroke="#13283c" stroke-width="0.7" stroke-linejoin="round"/>
<line x1="153.7" y1="400.4" x2="149.7" y2="394.1" stroke="#0f2438" stroke-width="3.1" stroke-linecap="round"/>
<line x1="153.7" y1="400.4" x2="149.7" y2="394.1" stroke="#1c5a90" stroke-width="1.9" stroke-linecap="round"/>
<path d="M146.5,389.1 L151.8,392.8 L147.6,395.5 Z" fill="url(#cg)" stroke="#13283c" stroke-width="0.7" stroke-linejoin="round"/>
<line x1="85.4" y1="402.9" x2="88.7" y2="398.7" stroke="#0f2438" stroke-width="3.1" stroke-linecap="round"/>
<line x1="85.4" y1="402.9" x2="88.7" y2="398.7" stroke="#1c5a90" stroke-width="1.9" stroke-linecap="round"/>
<path d="M92.0,394.5 L90.6,400.3 L86.7,397.2 Z" fill="url(#cg)" stroke="#13283c" stroke-width="0.7" stroke-linejoin="round"/>
<line x1="130.8" y1="402.9" x2="127.5" y2="398.7" stroke="#0f2438" stroke-width="3.1" stroke-linecap="round"/>
<line x1="130.8" y1="402.9" x2="127.5" y2="398.7" stroke="#1c5a90" stroke-width="1.9" stroke-linecap="round"/>
<path d="M124.2,394.5 L129.5,397.2 L125.6,400.3 Z" fill="url(#cg)" stroke="#13283c" stroke-width="0.7" stroke-linejoin="round"/>
<line x1="167.1" y1="399.9" x2="167.1" y2="394.4" stroke="#0f2438" stroke-width="3.1" stroke-linecap="round"/>
<line x1="167.1" y1="399.9" x2="167.1" y2="394.4" stroke="#1c5a90" stroke-width="1.9" stroke-linecap="round"/>
<path d="M167.1,388.8 L169.6,394.4 L164.6,394.4 Z" fill="url(#cg)" stroke="#13283c" stroke-width="0.7" stroke-linejoin="round"/>
<line x1="49.1" y1="399.9" x2="49.1" y2="394.4" stroke="#0f2438" stroke-width="3.1" stroke-linecap="round"/>
<line x1="49.1" y1="399.9" x2="49.1" y2="394.4" stroke="#1c5a90" stroke-width="1.9" stroke-linecap="round"/>
<path d="M49.1,388.8 L51.6,394.4 L46.6,394.4 Z" fill="url(#cg)" stroke="#13283c" stroke-width="0.7" stroke-linejoin="round"/>
<line x1="100.2" y1="406.0" x2="101.4" y2="401.3" stroke="#0f2438" stroke-width="3.1" stroke-linecap="round"/>
<line x1="100.2" y1="406.0" x2="101.4" y2="401.3" stroke="#1c5a90" stroke-width="1.9" stroke-linecap="round"/>
<path d="M102.5,396.7 L103.8,401.9 L98.9,400.7 Z" fill="url(#cg)" stroke="#13283c" stroke-width="0.7" stroke-linejoin="round"/>
<line x1="116.0" y1="406.0" x2="114.8" y2="401.3" stroke="#0f2438" stroke-width="3.1" stroke-linecap="round"/>
<line x1="116.0" y1="406.0" x2="114.8" y2="401.3" stroke="#1c5a90" stroke-width="1.9" stroke-linecap="round"/>
<path d="M113.7,396.7 L117.3,400.7 L112.4,401.9 Z" fill="url(#cg)" stroke="#13283c" stroke-width="0.7" stroke-linejoin="round"/>
<line x1="73.1" y1="406.4" x2="76.2" y2="399.6" stroke="#0f2438" stroke-width="3.1" stroke-linecap="round"/>
<line x1="73.1" y1="406.4" x2="76.2" y2="399.6" stroke="#1c5a90" stroke-width="1.9" stroke-linecap="round"/>
<path d="M78.6,394.1 L78.5,400.6 L73.9,398.6 Z" fill="url(#cg)" stroke="#13283c" stroke-width="0.7" stroke-linejoin="round"/>
<line x1="143.1" y1="406.4" x2="140.0" y2="399.6" stroke="#0f2438" stroke-width="3.1" stroke-linecap="round"/>
<line x1="143.1" y1="406.4" x2="140.0" y2="399.6" stroke="#1c5a90" stroke-width="1.9" stroke-linecap="round"/>
<path d="M137.6,394.1 L142.3,398.6 L137.7,400.6 Z" fill="url(#cg)" stroke="#13283c" stroke-width="0.7" stroke-linejoin="round"/>
<line x1="55.9" y1="405.4" x2="55.9" y2="399.9" stroke="#0f2438" stroke-width="3.1" stroke-linecap="round"/>
<line x1="55.9" y1="405.4" x2="55.9" y2="399.9" stroke="#1c5a90" stroke-width="1.9" stroke-linecap="round"/>
<path d="M55.9,394.3 L58.4,399.9 L53.4,399.9 Z" fill="url(#cg)" stroke="#13283c" stroke-width="0.7" stroke-linejoin="round"/>
<line x1="160.3" y1="405.4" x2="160.3" y2="399.9" stroke="#0f2438" stroke-width="3.1" stroke-linecap="round"/>
<line x1="160.3" y1="405.4" x2="160.3" y2="399.9" stroke="#1c5a90" stroke-width="1.9" stroke-linecap="round"/>
<path d="M160.3,394.3 L162.8,399.9 L157.8,399.9 Z" fill="url(#cg)" stroke="#13283c" stroke-width="0.7" stroke-linejoin="round"/>
<line x1="86.1" y1="410.7" x2="88.0" y2="403.5" stroke="#0f2438" stroke-width="3.1" stroke-linecap="round"/>
<line x1="86.1" y1="410.7" x2="88.0" y2="403.5" stroke="#1c5a90" stroke-width="1.9" stroke-linecap="round"/>
<path d="M89.6,397.7 L90.4,404.1 L85.6,402.8 Z" fill="url(#cg)" stroke="#13283c" stroke-width="0.7" stroke-linejoin="round"/>
<line x1="130.1" y1="410.7" x2="128.2" y2="403.5" stroke="#0f2438" stroke-width="3.1" stroke-linecap="round"/>
<line x1="130.1" y1="410.7" x2="128.2" y2="403.5" stroke="#1c5a90" stroke-width="1.9" stroke-linecap="round"/>
<path d="M126.6,397.7 L130.6,402.8 L125.8,404.1 Z" fill="url(#cg)" stroke="#13283c" stroke-width="0.7" stroke-linejoin="round"/>
<line x1="64.3" y1="410.2" x2="64.3" y2="404.6" stroke="#0f2438" stroke-width="3.1" stroke-linecap="round"/>
<line x1="64.3" y1="410.2" x2="64.3" y2="404.6" stroke="#1c5a90" stroke-width="1.9" stroke-linecap="round"/>
<path d="M64.3,399.0 L66.8,404.6 L61.8,404.6 Z" fill="url(#cg)" stroke="#13283c" stroke-width="0.7" stroke-linejoin="round"/>
<line x1="151.9" y1="410.2" x2="151.9" y2="404.6" stroke="#0f2438" stroke-width="3.1" stroke-linecap="round"/>
<line x1="151.9" y1="410.2" x2="151.9" y2="404.6" stroke="#1c5a90" stroke-width="1.9" stroke-linecap="round"/>
<path d="M151.9,399.0 L154.4,404.6 L149.4,404.6 Z" fill="url(#cg)" stroke="#13283c" stroke-width="0.7" stroke-linejoin="round"/>
<line x1="100.6" y1="412.9" x2="101.2" y2="405.5" stroke="#0f2438" stroke-width="3.1" stroke-linecap="round"/>
<line x1="100.6" y1="412.9" x2="101.2" y2="405.5" stroke="#1c5a90" stroke-width="1.9" stroke-linecap="round"/>
<path d="M101.8,399.5 L103.7,405.7 L98.8,405.3 Z" fill="url(#cg)" stroke="#13283c" stroke-width="0.7" stroke-linejoin="round"/>
<line x1="115.6" y1="412.9" x2="115.0" y2="405.5" stroke="#0f2438" stroke-width="3.1" stroke-linecap="round"/>
<line x1="115.6" y1="412.9" x2="115.0" y2="405.5" stroke="#1c5a90" stroke-width="1.9" stroke-linecap="round"/>
<path d="M114.4,399.5 L117.4,405.3 L112.5,405.7 Z" fill="url(#cg)" stroke="#13283c" stroke-width="0.7" stroke-linejoin="round"/>
<line x1="74.0" y1="414.0" x2="74.0" y2="408.5" stroke="#0f2438" stroke-width="3.1" stroke-linecap="round"/>
<line x1="74.0" y1="414.0" x2="74.0" y2="408.5" stroke="#1c5a90" stroke-width="1.9" stroke-linecap="round"/>
<path d="M74.0,402.9 L76.5,408.5 L71.5,408.5 Z" fill="url(#cg)" stroke="#13283c" stroke-width="0.7" stroke-linejoin="round"/>
<line x1="142.2" y1="414.0" x2="142.2" y2="408.5" stroke="#0f2438" stroke-width="3.1" stroke-linecap="round"/>
<line x1="142.2" y1="414.0" x2="142.2" y2="408.5" stroke="#1c5a90" stroke-width="1.9" stroke-linecap="round"/>
<path d="M142.2,402.9 L144.7,408.5 L139.7,408.5 Z" fill="url(#cg)" stroke="#13283c" stroke-width="0.7" stroke-linejoin="round"/>
<line x1="84.8" y1="416.9" x2="84.8" y2="411.3" stroke="#0f2438" stroke-width="3.1" stroke-linecap="round"/>
<line x1="84.8" y1="416.9" x2="84.8" y2="411.3" stroke="#1c5a90" stroke-width="1.9" stroke-linecap="round"/>
<path d="M84.8,405.7 L87.3,411.3 L82.3,411.3 Z" fill="url(#cg)" stroke="#13283c" stroke-width="0.7" stroke-linejoin="round"/>
<line x1="131.4" y1="416.9" x2="131.4" y2="411.3" stroke="#0f2438" stroke-width="3.1" stroke-linecap="round"/>
<line x1="131.4" y1="416.9" x2="131.4" y2="411.3" stroke="#1c5a90" stroke-width="1.9" stroke-linecap="round"/>
<path d="M131.4,405.7 L133.9,411.3 L128.9,411.3 Z" fill="url(#cg)" stroke="#13283c" stroke-width="0.7" stroke-linejoin="round"/>
<line x1="96.3" y1="418.6" x2="96.3" y2="413.0" stroke="#0f2438" stroke-width="3.1" stroke-linecap="round"/>
<line x1="96.3" y1="418.6" x2="96.3" y2="413.0" stroke="#1c5a90" stroke-width="1.9" stroke-linecap="round"/>
<path d="M96.3,407.5 L98.8,413.0 L93.8,413.0 Z" fill="url(#cg)" stroke="#13283c" stroke-width="0.7" stroke-linejoin="round"/>
<line x1="119.9" y1="418.6" x2="119.9" y2="413.0" stroke="#0f2438" stroke-width="3.1" stroke-linecap="round"/>
<line x1="119.9" y1="418.6" x2="119.9" y2="413.0" stroke="#1c5a90" stroke-width="1.9" stroke-linecap="round"/>
<path d="M119.9,407.5 L122.4,413.0 L117.4,413.0 Z" fill="url(#cg)" stroke="#13283c" stroke-width="0.7" stroke-linejoin="round"/>
<line x1="108.1" y1="419.2" x2="108.1" y2="413.6" stroke="#0f2438" stroke-width="3.1" stroke-linecap="round"/>
<line x1="108.1" y1="419.2" x2="108.1" y2="413.6" stroke="#1c5a90" stroke-width="1.9" stroke-linecap="round"/>
<path d="M108.1,408.0 L110.6,413.6 L105.6,413.6 Z" fill="url(#cg)" stroke="#13283c" stroke-width="0.7" stroke-linejoin="round"/>
<line x1="200.5" y1="390.2" x2="200.5" y2="369" stroke="#111" stroke-width="1.3"/>
<path d="M200.5,365.6 L202.7,370.4 L198.3,370.4 Z" fill="#111"/>
<line x1="200.5" y1="390.2" x2="216.8" y2="374.4" stroke="#1f4cf0" stroke-width="1.6"/>
<path d="M219.2,372 L217.6,376.6 L214.6,373.6 Z" fill="#1f4cf0"/>
<path d="M200.5,378.4 Q206,378 209.3,380.8" fill="none" stroke="#222" stroke-width="0.6"/>
<text x="189.6" y="373.4" font-size="9" font-weight="bold">H</text>
<text x="204.6" y="368.5" font-size="13">θ</text>
<text x="219.6" y="383.2" font-size="8.5" font-weight="bold">M</text>
</g>
<g id="panel-c">
<text x="219.3" y="336.5" font-size="13" textLength="16">(c)</text>
<path d="M395.5,369.5 L393.9,366.0 L391.8,362.7 L389.3,359.5 L386.5,356.4 L383.2,353.6 L379.7,351.0 L375.9,348.5 L371.8,346.3 L367.5,344.2 L363.0,342.4 L358.4,340.8 L353.6,339.4 L348.7,338.2 L343.7,337.2 L338.6,336.5 L333.4,335.9 L328.3,335.6 L323.1,335.5 L317.9,335.6 L312.8,335.9 L307.7,336.5 L302.6,337.2 L297.7,338.2 L292.8,339.4 L288.1,340.8 L283.6,342.4 L279.2,344.2 L275.1,346.3 L271.1,348.5 L267.5,351.0 L264.1,353.6 L261.1,356.4 L258.4,359.5 L256.1,362.7 L254.3,366.0 L252.9,369.5 L252.0,373.1 L251.7,376.8 L251.9,380.6 L252.8,384.5 L254.2,388.3 L256.3,392.2 L259.1,395.9 L262.5,399.6 L266.6,403.1 L271.3,406.4 L276.6,409.5 L282.5,412.2 L288.9,414.7 L295.7,416.7 L302.9,418.3 L310.4,419.5 L318.1,420.3 L325.8,420.5 L333.6,420.3 L341.2,419.5 L348.6,418.3 L355.7,416.7 L362.4,414.7 L368.7,412.2 L374.4,409.5 L379.5,406.4 L384.0,403.1 L387.8,399.6 L391.0,395.9 L393.5,392.2 L395.4,388.3 L396.6,384.5 L397.2,380.6 L397.1,376.8 L396.6,373.1 Z" fill="#cfcef8" stroke="#222" stroke-width="0.6"/>
<path d="M387.2,369.5 L385.9,366.4 L384.2,363.4 L382.1,360.6 L379.6,357.9 L376.9,355.3 L373.8,352.9 L370.4,350.7 L366.9,348.7 L363.1,346.8 L359.1,345.2 L354.9,343.7 L350.6,342.4 L346.2,341.3 L341.7,340.4 L337.2,339.7 L332.5,339.2 L327.9,339.0 L323.2,338.9 L318.5,339.0 L313.9,339.2 L309.3,339.7 L304.8,340.4 L300.3,341.3 L296.0,342.4 L291.8,343.7 L287.7,345.2 L283.9,346.8 L280.2,348.7 L276.7,350.7 L273.5,352.9 L270.6,355.3 L268.0,357.9 L265.7,360.6 L263.8,363.4 L262.3,366.4 L261.2,369.5 L260.5,372.7 L260.4,376.0 L260.7,379.3 L261.6,382.6 L263.0,386.0 L265.0,389.3 L267.5,392.5 L270.6,395.7 L274.2,398.6 L278.4,401.5 L283.0,404.0 L288.2,406.4 L293.7,408.4 L299.7,410.1 L305.9,411.5 L312.3,412.5 L318.9,413.1 L325.6,413.3 L332.3,413.1 L338.8,412.5 L345.2,411.5 L351.3,410.1 L357.2,408.4 L362.6,406.4 L367.6,404.0 L372.1,401.5 L376.1,398.6 L379.5,395.7 L382.4,392.5 L384.7,389.3 L386.4,386.0 L387.6,382.6 L388.3,379.3 L388.4,376.0 L388.0,372.7 Z" fill="#f7c6c8"/>
<path d="M379.9,369.5 L378.8,366.8 L377.4,364.1 L375.6,361.6 L373.5,359.2 L371.1,356.9 L368.4,354.7 L365.5,352.7 L362.3,350.9 L359.0,349.2 L355.4,347.7 L351.8,346.4 L347.9,345.2 L344.0,344.2 L339.9,343.4 L335.8,342.8 L331.7,342.3 L327.5,342.0 L323.3,341.9 L319.1,342.0 L314.9,342.3 L310.8,342.8 L306.7,343.4 L302.8,344.2 L298.9,345.2 L295.1,346.4 L291.5,347.7 L288.1,349.2 L284.8,350.9 L281.8,352.7 L279.0,354.7 L276.5,356.9 L274.2,359.2 L272.3,361.6 L270.6,364.1 L269.4,366.8 L268.5,369.5 L268.1,372.3 L268.0,375.2 L268.4,378.1 L269.3,381.0 L270.6,383.9 L272.5,386.8 L274.7,389.6 L277.5,392.3 L280.8,394.8 L284.4,397.2 L288.5,399.4 L293.0,401.4 L297.9,403.1 L303.0,404.6 L308.4,405.7 L314.0,406.6 L319.7,407.1 L325.4,407.3 L331.1,407.1 L336.8,406.6 L342.3,405.7 L347.6,404.6 L352.7,403.1 L357.4,401.4 L361.8,399.4 L365.7,397.2 L369.3,394.8 L372.3,392.3 L374.9,389.6 L377.0,386.8 L378.7,383.9 L379.8,381.0 L380.5,378.1 L380.7,375.2 L380.5,372.3 Z" fill="#908df0"/>
<path d="M370.9,369.5 L370.2,367.2 L369.1,365.0 L367.7,362.8 L366.0,360.7 L364.0,358.8 L361.8,356.9 L359.4,355.2 L356.7,353.6 L353.9,352.2 L350.9,350.9 L347.8,349.7 L344.5,348.7 L341.2,347.8 L337.7,347.1 L334.2,346.6 L330.6,346.2 L327.0,345.9 L323.4,345.8 L319.8,345.9 L316.2,346.2 L312.7,346.6 L309.2,347.1 L305.8,347.8 L302.5,348.7 L299.3,349.7 L296.3,350.9 L293.4,352.2 L290.6,353.6 L288.1,355.2 L285.8,356.9 L283.7,358.8 L281.9,360.7 L280.3,362.8 L279.0,365.0 L278.1,367.2 L277.4,369.5 L277.1,371.9 L277.2,374.3 L277.7,376.7 L278.5,379.1 L279.7,381.5 L281.3,383.8 L283.3,386.1 L285.7,388.3 L288.4,390.4 L291.5,392.3 L294.9,394.1 L298.7,395.7 L302.7,397.0 L306.9,398.2 L311.3,399.1 L315.8,399.8 L320.5,400.2 L325.2,400.3 L329.9,400.2 L334.5,399.8 L339.0,399.1 L343.4,398.2 L347.5,397.0 L351.4,395.7 L355.0,394.1 L358.3,392.3 L361.3,390.4 L363.9,388.3 L366.1,386.1 L368.0,383.8 L369.4,381.5 L370.5,379.1 L371.2,376.7 L371.5,374.3 L371.4,371.9 Z" fill="#f08b8b"/>
<path d="M363.6,369.5 L363.0,367.6 L362.2,365.7 L361.0,363.8 L359.6,362.1 L358.0,360.4 L356.2,358.8 L354.2,357.3 L351.9,356.0 L349.6,354.7 L347.0,353.6 L344.4,352.6 L341.6,351.7 L338.7,350.9 L335.8,350.3 L332.8,349.8 L329.7,349.5 L326.6,349.3 L323.5,349.2 L320.4,349.3 L317.4,349.5 L314.3,349.8 L311.4,350.3 L308.4,350.9 L305.6,351.7 L302.9,352.6 L300.3,353.6 L297.9,354.7 L295.6,356.0 L293.4,357.3 L291.5,358.8 L289.8,360.4 L288.3,362.1 L287.0,363.8 L286.0,365.7 L285.2,367.6 L284.8,369.5 L284.6,371.5 L284.7,373.5 L285.2,375.5 L286.0,377.5 L287.0,379.5 L288.4,381.4 L290.2,383.3 L292.2,385.1 L294.5,386.8 L297.1,388.4 L300.0,389.8 L303.1,391.1 L306.4,392.2 L309.9,393.2 L313.6,393.9 L317.3,394.4 L321.1,394.8 L325.0,394.9 L328.9,394.8 L332.7,394.4 L336.4,393.9 L340.0,393.2 L343.4,392.2 L346.7,391.1 L349.7,389.8 L352.5,388.4 L355.0,386.8 L357.2,385.1 L359.1,383.3 L360.7,381.4 L362.0,379.5 L362.9,377.5 L363.6,375.5 L363.9,373.5 L363.9,371.5 Z" fill="#3837e0"/>
<path d="M355.0,369.5 L354.6,368.0 L354.0,366.5 L353.1,365.0 L352.1,363.6 L350.9,362.3 L349.5,361.1 L347.9,359.9 L346.2,358.8 L344.3,357.8 L342.3,356.8 L340.2,356.0 L338.1,355.3 L335.8,354.7 L333.4,354.2 L331.0,353.8 L328.6,353.5 L326.1,353.3 L323.7,353.3 L321.2,353.3 L318.7,353.5 L316.3,353.8 L314.0,354.2 L311.6,354.7 L309.4,355.3 L307.3,356.0 L305.2,356.8 L303.3,357.8 L301.5,358.8 L299.8,359.9 L298.4,361.1 L297.0,362.3 L295.9,363.6 L295.0,365.0 L294.2,366.5 L293.7,368.0 L293.4,369.5 L293.3,371.0 L293.5,372.6 L293.9,374.2 L294.6,375.7 L295.5,377.2 L296.6,378.7 L298.0,380.1 L299.6,381.5 L301.4,382.8 L303.5,384.0 L305.7,385.0 L308.1,386.0 L310.6,386.8 L313.3,387.5 L316.1,388.1 L319.0,388.5 L321.9,388.7 L324.8,388.8 L327.7,388.7 L330.6,388.5 L333.5,388.1 L336.2,387.5 L338.9,386.8 L341.4,386.0 L343.7,385.0 L345.9,384.0 L347.8,382.8 L349.6,381.5 L351.1,380.1 L352.4,378.7 L353.4,377.2 L354.2,375.7 L354.8,374.2 L355.1,372.6 L355.1,371.0 Z" fill="#e8363b"/>
<path d="M347.0,369.5 L346.7,368.4 L346.3,367.3 L345.8,366.2 L345.0,365.1 L344.1,364.1 L343.1,363.2 L342.0,362.3 L340.7,361.4 L339.3,360.7 L337.9,360.0 L336.3,359.3 L334.6,358.8 L332.9,358.3 L331.2,357.9 L329.4,357.6 L327.5,357.4 L325.7,357.3 L323.8,357.2 L321.9,357.3 L320.1,357.4 L318.2,357.6 L316.5,357.9 L314.7,358.3 L313.0,358.8 L311.4,359.3 L309.9,360.0 L308.5,360.7 L307.1,361.4 L305.9,362.3 L304.8,363.2 L303.9,364.1 L303.1,365.1 L302.4,366.2 L301.9,367.3 L301.6,368.4 L301.4,369.5 L301.4,370.6 L301.5,371.8 L301.9,372.9 L302.4,374.1 L303.1,375.2 L304.0,376.2 L305.0,377.3 L306.2,378.3 L307.6,379.2 L309.1,380.0 L310.7,380.8 L312.5,381.5 L314.4,382.1 L316.3,382.6 L318.3,382.9 L320.4,383.2 L322.5,383.4 L324.6,383.4 L326.8,383.4 L328.9,383.2 L330.9,382.9 L332.9,382.6 L334.8,382.1 L336.7,381.5 L338.4,380.8 L339.9,380.0 L341.4,379.2 L342.7,378.3 L343.8,377.3 L344.8,376.2 L345.6,375.2 L346.3,374.1 L346.7,372.9 L347.0,371.8 L347.1,370.6 Z" fill="#fbf7f1"/>
<path d="M264.1,332.8V330.9 M268.2,332.8V330.9 M272.4,332.8V330.9 M276.5,332.8V330.9 M280.6,332.8V330.9 M284.7,332.8V330.9 M288.8,332.8V330.9 M292.9,332.8V330.9 M297.0,332.8V330.9 M301.1,332.8V330.9 M305.2,332.8V330.9 M309.3,332.8V330.9 M313.4,332.8V330.9 M317.5,332.8V330.9 M321.6,332.8V330.9 M325.7,332.8V330.9 M329.8,332.8V330.9 M334.0,332.8V330.9 M338.1,332.8V330.9 M342.2,332.8V330.9 M346.3,332.8V330.9 M350.4,332.8V330.9 M354.5,332.8V330.9 M358.6,332.8V330.9 M362.7,332.8V330.9 M366.8,332.8V330.9 M370.9,332.8V330.9 M375.0,332.8V330.9 M379.1,332.8V330.9" fill="none" stroke="#2a3642" stroke-width="1.43"/>
<path d="M263.5,334.9V332.9 M267.6,334.9V332.9 M271.8,334.9V332.9 M276.0,334.9V332.9 M280.1,334.9V332.9 M284.3,334.9V332.9 M288.4,334.9V332.9 M292.6,334.9V332.9 M296.7,334.9V332.9 M300.9,334.9V332.9 M305.1,334.9V332.9 M309.2,334.9V332.9 M313.4,334.9V332.9 M317.5,334.9V332.9 M321.7,334.9V332.9 M325.8,334.9V332.9 M330.0,334.9V332.9 M334.2,334.9V332.9 M338.3,334.9V332.9 M342.5,334.9V332.9 M346.6,334.9V332.9 M350.8,334.9V332.9 M354.9,334.9V332.9 M359.1,334.9V332.9 M363.3,334.9V332.9 M367.4,334.9V332.9 M371.6,334.9V332.9 M375.7,334.9V332.9 M379.9,334.9V332.9" fill="none" stroke="#2a3642" stroke-width="1.45"/>
<path d="M262.8,337.0V334.9 M267.0,337.0V334.9 M271.2,337.0V334.9 M275.4,337.0V334.9 M279.6,337.0V334.9 M283.9,337.0V334.9 M288.1,337.0V334.9 M292.3,337.0V334.9 M296.5,337.0V334.9 M300.7,337.0V334.9 M304.9,337.0V334.9 M309.1,337.0V334.9 M313.3,337.0V334.9 M317.5,337.0V334.9 M321.7,337.0V334.9 M325.9,337.0V334.9 M330.1,337.0V334.9 M334.4,337.0V334.9 M338.6,337.0V334.9 M342.8,337.0V334.9 M347.0,337.0V334.9 M351.2,337.0V334.9 M355.4,337.0V334.9 M359.6,337.0V334.9 M363.8,337.0V334.9 M368.0,337.0V334.9 M372.2,337.0V334.9 M376.4,337.0V334.9 M380.7,337.0V334.9" fill="none" stroke="#2a3642" stroke-width="1.47"/>
<path d="M262.1,339.1V337.1 M266.4,339.1V337.1 M270.6,339.1V337.1 M274.9,339.1V337.1 M279.2,339.1V337.1 M283.4,339.1V337.1 M287.7,339.1V337.1 M292.0,339.1V337.1 M296.2,339.1V337.1 M300.5,339.1V337.1 M304.7,339.1V337.1 M309.0,339.1V337.1 M313.3,339.1V337.1 M317.5,339.1V337.1 M321.8,339.1V337.1 M326.0,339.1V337.1 M330.3,339.1V337.1 M334.6,339.1V337.1 M338.8,339.1V337.1 M343.1,339.1V337.1 M347.4,339.1V337.1 M351.6,339.1V337.1 M355.9,339.1V337.1 M360.1,339.1V337.1 M364.4,339.1V337.1 M368.7,339.1V337.1 M372.9,339.1V337.1 M377.2,339.1V337.1 M381.4,339.1V337.1" fill="none" stroke="#2a3642" stroke-width="1.49"/>
<path d="M261.4,341.3V339.2 M265.7,341.3V339.2 M270.1,341.3V339.2 M274.4,341.3V339.2 M278.7,341.3V339.2 M283.0,341.3V339.2 M287.3,341.3V339.2 M291.6,341.3V339.2 M295.9,341.3V339.2 M300.3,341.3V339.2 M304.6,341.3V339.2 M308.9,341.3V339.2 M313.2,341.3V339.2 M317.5,341.3V339.2 M321.8,341.3V339.2 M326.2,341.3V339.2 M330.5,341.3V339.2 M334.8,341.3V339.2 M339.1,341.3V339.2 M343.4,341.3V339.2 M347.7,341.3V339.2 M352.0,341.3V339.2 M356.4,341.3V339.2 M360.7,341.3V339.2 M365.0,341.3V339.2 M369.3,341.3V339.2 M373.6,341.3V339.2 M377.9,341.3V339.2 M382.3,341.3V339.2" fill="none" stroke="#2a3642" stroke-width="1.50"/>
<path d="M260.7,343.6V341.4 M265.1,343.6V341.4 M269.4,343.6V341.4 M273.8,343.6V341.4 M278.2,343.6V341.4 M282.6,343.6V341.4 M286.9,343.6V341.4 M291.3,343.6V341.4 M295.7,343.6V341.4 M300.0,343.6V341.4 M304.4,343.6V341.4 M308.8,343.6V341.4 M313.2,343.6V341.4 M317.5,343.6V341.4 M321.9,343.6V341.4 M326.3,343.6V341.4 M330.6,343.6V341.4 M335.0,343.6V341.4 M339.4,343.6V341.4 M343.7,343.6V341.4 M348.1,343.6V341.4 M352.5,343.6V341.4 M356.9,343.6V341.4 M361.2,343.6V341.4 M365.6,343.6V341.4 M370.0,343.6V341.4 M374.3,343.6V341.4 M378.7,343.6V341.4 M383.1,343.6V341.4" fill="none" stroke="#2a3642" stroke-width="1.52"/>
<path d="M260.0,345.9V343.7 M264.4,345.9V343.7 M268.8,345.9V343.7 M273.2,345.9V343.7 M277.7,345.9V343.7 M282.1,345.9V343.7 M286.5,345.9V343.7 M291.0,345.9V343.7 M295.4,345.9V343.7 M299.8,345.9V343.7 M304.2,345.9V343.7 M308.7,345.9V343.7 M313.1,345.9V343.7 M317.5,345.9V343.7 M321.9,345.9V343.7 M326.4,345.9V343.7 M330.8,345.9V343.7 M335.2,345.9V343.7 M339.7,345.9V343.7 M344.1,345.9V343.7 M348.5,345.9V343.7 M352.9,345.9V343.7 M357.4,345.9V343.7 M361.8,345.9V343.7 M366.2,345.9V343.7 M370.7,345.9V343.7 M375.1,345.9V343.7 M379.5,345.9V343.7 M383.9,345.9V343.7" fill="none" stroke="#2a3642" stroke-width="1.54"/>
<path d="M259.2,348.3V346.1 M263.7,348.3V346.1 M268.2,348.3V346.1 M272.7,348.3V346.1 M277.1,348.3V346.1 M281.6,348.3V346.1 M286.1,348.3V346.1 M290.6,348.3V346.1 M295.1,348.3V346.1 M299.6,348.3V346.1 M304.1,348.3V346.1 M308.5,348.3V346.1 M313.0,348.3V346.1 M317.5,348.3V346.1 M322.0,348.3V346.1 M326.5,348.3V346.1 M331.0,348.3V346.1 M335.5,348.3V346.1 M340.0,348.3V346.1 M344.4,348.3V346.1 M348.9,348.3V346.1 M353.4,348.3V346.1 M357.9,348.3V346.1 M362.4,348.3V346.1 M366.9,348.3V346.1 M371.4,348.3V346.1 M375.8,348.3V346.1 M380.3,348.3V346.1 M384.8,348.3V346.1" fill="none" stroke="#2a3642" stroke-width="1.56"/>
<path d="M258.4,350.8V348.5 M263.0,350.8V348.5 M267.5,350.8V348.5 M272.0,350.8V348.5 M276.6,350.8V348.5 M281.1,350.8V348.5 M285.7,350.8V348.5 M290.2,350.8V348.5 M294.8,350.8V348.5 M299.3,350.8V348.5 M303.9,350.8V348.5 M308.4,350.8V348.5 M313.0,350.8V348.5 M317.5,350.8V348.5 M322.1,350.8V348.5 M326.6,350.8V348.5 M331.2,350.8V348.5 M335.7,350.8V348.5 M340.3,350.8V348.5 M344.8,350.8V348.5 M349.3,350.8V348.5 M353.9,350.8V348.5 M358.4,350.8V348.5 M363.0,350.8V348.5 M367.5,350.8V348.5 M372.1,350.8V348.5 M376.6,350.8V348.5 M381.2,350.8V348.5 M385.7,350.8V348.5" fill="none" stroke="#2a3642" stroke-width="1.58"/>
<path d="M257.6,353.3V350.9 M262.2,353.3V350.9 M266.8,353.3V350.9 M271.4,353.3V350.9 M276.0,353.3V350.9 M280.6,353.3V350.9 M285.3,353.3V350.9 M289.9,353.3V350.9 M294.5,353.3V350.9 M299.1,353.3V350.9 M303.7,353.3V350.9 M308.3,353.3V350.9 M312.9,353.3V350.9 M317.5,353.3V350.9 M322.1,353.3V350.9 M326.7,353.3V350.9 M331.3,353.3V350.9 M336.0,353.3V350.9 M340.6,353.3V350.9 M345.2,353.3V350.9 M349.8,353.3V350.9 M354.4,353.3V350.9 M359.0,353.3V350.9 M363.6,353.3V350.9 M368.2,353.3V350.9 M372.8,353.3V350.9 M377.4,353.3V350.9 M382.0,353.3V350.9 M386.6,353.3V350.9" fill="none" stroke="#2a3642" stroke-width="1.61"/>
<path d="M256.8,355.9V353.4 M261.4,355.9V353.4 M266.1,355.9V353.4 M270.8,355.9V353.4 M275.5,355.9V353.4 M280.1,355.9V353.4 M284.8,355.9V353.4 M289.5,355.9V353.4 M294.2,355.9V353.4 M298.8,355.9V353.4 M303.5,355.9V353.4 M308.2,355.9V353.4 M312.8,355.9V353.4 M317.5,355.9V353.4 M322.2,355.9V353.4 M326.9,355.9V353.4 M331.5,355.9V353.4 M336.2,355.9V353.4 M340.9,355.9V353.4 M345.5,355.9V353.4 M350.2,355.9V353.4 M354.9,355.9V353.4 M359.6,355.9V353.4 M364.2,355.9V353.4 M368.9,355.9V353.4 M373.6,355.9V353.4 M378.3,355.9V353.4 M382.9,355.9V353.4 M387.6,355.9V353.4" fill="none" stroke="#2a3642" stroke-width="1.63"/>
<path d="M255.9,358.5V356.0 M260.7,358.5V356.0 M265.4,358.5V356.0 M270.1,358.5V356.0 M274.9,358.5V356.0 M279.6,358.5V356.0 M284.4,358.5V356.0 M289.1,358.5V356.0 M293.8,358.5V356.0 M298.6,358.5V356.0 M303.3,358.5V356.0 M308.0,358.5V356.0 M312.8,358.5V356.0 M317.5,358.5V356.0 M331.7,358.5V356.0 M336.5,358.5V356.0 M341.2,358.5V356.0 M345.9,358.5V356.0 M350.7,358.5V356.0 M355.4,358.5V356.0 M360.2,358.5V356.0 M364.9,358.5V356.0 M369.6,358.5V356.0 M374.4,358.5V356.0 M379.1,358.5V356.0 M383.8,358.5V356.0 M388.6,358.5V356.0" fill="none" stroke="#2a3642" stroke-width="1.65"/>
<path d="M255.1,361.3V358.7 M259.9,361.3V358.7 M264.7,361.3V358.7 M269.5,361.3V358.7 M274.3,361.3V358.7 M279.1,361.3V358.7 M283.9,361.3V358.7 M288.7,361.3V358.7 M293.5,361.3V358.7 M298.3,361.3V358.7 M303.1,361.3V358.7 M307.9,361.3V358.7 M341.5,361.3V358.7 M346.3,361.3V358.7 M351.1,361.3V358.7 M356.0,361.3V358.7 M360.8,361.3V358.7 M365.6,361.3V358.7 M370.4,361.3V358.7 M375.2,361.3V358.7 M380.0,361.3V358.7 M384.8,361.3V358.7 M389.6,361.3V358.7" fill="none" stroke="#2a3642" stroke-width="1.68"/>
<path d="M254.2,364.1V361.5 M259.0,364.1V361.5 M263.9,364.1V361.5 M268.8,364.1V361.5 M273.6,364.1V361.5 M278.5,364.1V361.5 M283.4,364.1V361.5 M288.3,364.1V361.5 M293.1,364.1V361.5 M298.0,364.1V361.5 M302.9,364.1V361.5 M346.8,364.1V361.5 M351.6,364.1V361.5 M356.5,364.1V361.5 M361.4,364.1V361.5 M366.2,364.1V361.5 M371.1,364.1V361.5 M376.0,364.1V361.5 M380.9,364.1V361.5 M385.7,364.1V361.5 M390.6,364.1V361.5" fill="none" stroke="#2a3642" stroke-width="1.70"/>
<path d="M253.2,367.0V364.3 M258.2,367.0V364.3 M263.1,367.0V364.3 M268.1,367.0V364.3 M273.0,367.0V364.3 M278.0,367.0V364.3 M282.9,367.0V364.3 M287.8,367.0V364.3 M292.8,367.0V364.3 M297.7,367.0V364.3 M302.7,367.0V364.3 M347.2,367.0V364.3 M352.1,367.0V364.3 M357.1,367.0V364.3 M362.0,367.0V364.3 M367.0,367.0V364.3 M371.9,367.0V364.3 M376.8,367.0V364.3 M381.8,367.0V364.3 M386.7,367.0V364.3 M391.7,367.0V364.3" fill="none" stroke="#2a3642" stroke-width="1.72"/>
<path d="M252.3,370.0V367.2 M257.3,370.0V367.2 M262.3,370.0V367.2 M267.3,370.0V367.2 M272.3,370.0V367.2 M277.4,370.0V367.2 M282.4,370.0V367.2 M287.4,370.0V367.2 M292.4,370.0V367.2 M297.4,370.0V367.2 M347.6,370.0V367.2 M352.6,370.0V367.2 M357.7,370.0V367.2 M362.7,370.0V367.2 M367.7,370.0V367.2 M372.7,370.0V367.2 M377.7,370.0V367.2 M382.7,370.0V367.2 M387.8,370.0V367.2 M392.8,370.0V367.2" fill="none" stroke="#2a3642" stroke-width="1.75"/>
<path d="M251.3,373.1V370.2 M256.4,373.1V370.2 M261.5,373.1V370.2 M266.6,373.1V370.2 M271.7,373.1V370.2 M276.8,373.1V370.2 M281.9,373.1V370.2 M286.9,373.1V370.2 M292.0,373.1V370.2 M297.1,373.1V370.2 M302.2,373.1V370.2 M348.1,373.1V370.2 M353.2,373.1V370.2 M358.3,373.1V370.2 M363.3,373.1V370.2 M368.4,373.1V370.2 M373.5,373.1V370.2 M378.6,373.1V370.2 M383.7,373.1V370.2 M388.8,373.1V370.2 M393.9,373.1V370.2" fill="none" stroke="#2a3642" stroke-width="1.78"/>
<path d="M250.3,376.2V373.3 M255.5,376.2V373.3 M260.6,376.2V373.3 M265.8,376.2V373.3 M271.0,376.2V373.3 M276.1,376.2V373.3 M281.3,376.2V373.3 M286.5,376.2V373.3 M291.7,376.2V373.3 M296.8,376.2V373.3 M302.0,376.2V373.3 M348.5,376.2V373.3 M353.7,376.2V373.3 M358.9,376.2V373.3 M364.0,376.2V373.3 M369.2,376.2V373.3 M374.4,376.2V373.3 M379.6,376.2V373.3 M384.7,376.2V373.3 M389.9,376.2V373.3 M395.1,376.2V373.3" fill="none" stroke="#2a3642" stroke-width="1.80"/>
<path d="M249.2,379.5V376.5 M254.5,379.5V376.5 M259.7,379.5V376.5 M265.0,379.5V376.5 M270.2,379.5V376.5 M275.5,379.5V376.5 M280.7,379.5V376.5 M286.0,379.5V376.5 M291.3,379.5V376.5 M296.5,379.5V376.5 M301.8,379.5V376.5 M307.0,379.5V376.5 M343.8,379.5V376.5 M349.0,379.5V376.5 M354.3,379.5V376.5 M359.5,379.5V376.5 M364.8,379.5V376.5 M370.0,379.5V376.5 M375.3,379.5V376.5 M380.5,379.5V376.5 M385.8,379.5V376.5 M391.0,379.5V376.5 M396.3,379.5V376.5" fill="none" stroke="#2a3642" stroke-width="1.83"/>
<path d="M248.2,382.9V379.8 M253.5,382.9V379.8 M258.8,382.9V379.8 M264.2,382.9V379.8 M269.5,382.9V379.8 M274.8,382.9V379.8 M280.2,382.9V379.8 M285.5,382.9V379.8 M290.8,382.9V379.8 M296.2,382.9V379.8 M301.5,382.9V379.8 M306.8,382.9V379.8 M312.2,382.9V379.8 M317.5,382.9V379.8 M333.5,382.9V379.8 M338.8,382.9V379.8 M344.2,382.9V379.8 M349.5,382.9V379.8 M354.8,382.9V379.8 M360.2,382.9V379.8 M365.5,382.9V379.8 M370.8,382.9V379.8 M376.2,382.9V379.8 M381.5,382.9V379.8 M386.8,382.9V379.8 M392.2,382.9V379.8 M397.5,382.9V379.8" fill="none" stroke="#2a3642" stroke-width="1.86"/>
<path d="M247.1,386.4V383.2 M252.5,386.4V383.2 M257.9,386.4V383.2 M263.3,386.4V383.2 M268.7,386.4V383.2 M274.2,386.4V383.2 M279.6,386.4V383.2 M285.0,386.4V383.2 M290.4,386.4V383.2 M295.8,386.4V383.2 M301.2,386.4V383.2 M306.7,386.4V383.2 M312.1,386.4V383.2 M317.5,386.4V383.2 M322.9,386.4V383.2 M328.3,386.4V383.2 M333.8,386.4V383.2 M339.2,386.4V383.2 M344.6,386.4V383.2 M350.0,386.4V383.2 M355.4,386.4V383.2 M360.9,386.4V383.2 M366.3,386.4V383.2 M371.7,386.4V383.2 M377.1,386.4V383.2 M382.5,386.4V383.2 M387.9,386.4V383.2 M393.4,386.4V383.2 M398.8,386.4V383.2" fill="none" stroke="#2a3642" stroke-width="1.89"/>
<path d="M245.9,390.0V386.7 M251.4,390.0V386.7 M256.9,390.0V386.7 M262.4,390.0V386.7 M267.9,390.0V386.7 M273.4,390.0V386.7 M279.0,390.0V386.7 M284.5,390.0V386.7 M290.0,390.0V386.7 M295.5,390.0V386.7 M301.0,390.0V386.7 M306.5,390.0V386.7 M312.0,390.0V386.7 M317.5,390.0V386.7 M323.0,390.0V386.7 M328.5,390.0V386.7 M334.0,390.0V386.7 M339.5,390.0V386.7 M345.0,390.0V386.7 M350.5,390.0V386.7 M356.0,390.0V386.7 M361.6,390.0V386.7 M367.1,390.0V386.7 M372.6,390.0V386.7 M378.1,390.0V386.7 M383.6,390.0V386.7 M389.1,390.0V386.7 M394.6,390.0V386.7 M400.1,390.0V386.7" fill="none" stroke="#2a3642" stroke-width="1.92"/>
<path d="M244.7,393.7V390.3 M250.3,393.7V390.3 M255.9,393.7V390.3 M261.5,393.7V390.3 M267.1,393.7V390.3 M272.7,393.7V390.3 M278.3,393.7V390.3 M283.9,393.7V390.3 M289.5,393.7V390.3 M295.1,393.7V390.3 M300.7,393.7V390.3 M306.3,393.7V390.3 M311.9,393.7V390.3 M317.5,393.7V390.3 M323.1,393.7V390.3 M328.7,393.7V390.3 M334.3,393.7V390.3 M339.9,393.7V390.3 M345.5,393.7V390.3 M351.1,393.7V390.3 M356.7,393.7V390.3 M362.3,393.7V390.3 M367.9,393.7V390.3 M373.5,393.7V390.3 M379.1,393.7V390.3 M384.7,393.7V390.3 M390.3,393.7V390.3 M395.9,393.7V390.3 M401.5,393.7V390.3" fill="none" stroke="#2a3642" stroke-width="1.95"/>
<path d="M243.5,397.5V394.0 M249.2,397.5V394.0 M254.9,397.5V394.0 M260.6,397.5V394.0 M266.3,397.5V394.0 M272.0,397.5V394.0 M277.7,397.5V394.0 M283.3,397.5V394.0 M289.0,397.5V394.0 M294.7,397.5V394.0 M300.4,397.5V394.0 M306.1,397.5V394.0 M311.8,397.5V394.0 M317.5,397.5V394.0 M323.2,397.5V394.0 M328.9,397.5V394.0 M334.6,397.5V394.0 M340.3,397.5V394.0 M346.0,397.5V394.0 M351.6,397.5V394.0 M357.3,397.5V394.0 M363.0,397.5V394.0 M368.7,397.5V394.0 M374.4,397.5V394.0 M380.1,397.5V394.0 M385.8,397.5V394.0 M391.5,397.5V394.0 M397.2,397.5V394.0 M402.9,397.5V394.0" fill="none" stroke="#2a3642" stroke-width="1.99"/>
<path d="M242.2,401.5V397.9 M248.0,401.5V397.9 M253.8,401.5V397.9 M259.6,401.5V397.9 M265.4,401.5V397.9 M271.2,401.5V397.9 M277.0,401.5V397.9 M282.8,401.5V397.9 M288.6,401.5V397.9 M294.3,401.5V397.9 M300.1,401.5V397.9 M305.9,401.5V397.9 M311.7,401.5V397.9 M317.5,401.5V397.9 M323.3,401.5V397.9 M329.1,401.5V397.9 M334.9,401.5V397.9 M340.7,401.5V397.9 M346.4,401.5V397.9 M352.2,401.5V397.9 M358.0,401.5V397.9 M363.8,401.5V397.9 M369.6,401.5V397.9 M375.4,401.5V397.9 M381.2,401.5V397.9 M387.0,401.5V397.9 M392.7,401.5V397.9 M398.5,401.5V397.9 M404.3,401.5V397.9" fill="none" stroke="#2a3642" stroke-width="2.02"/>
<path d="M240.9,405.6V401.8 M246.8,405.6V401.8 M252.7,405.6V401.8 M258.6,405.6V401.8 M264.5,405.6V401.8 M270.4,405.6V401.8 M276.3,405.6V401.8 M282.2,405.6V401.8 M288.0,405.6V401.8 M293.9,405.6V401.8 M299.8,405.6V401.8 M305.7,405.6V401.8 M311.6,405.6V401.8 M317.5,405.6V401.8 M323.4,405.6V401.8 M329.3,405.6V401.8 M335.2,405.6V401.8 M341.1,405.6V401.8 M346.9,405.6V401.8 M352.8,405.6V401.8 M358.7,405.6V401.8 M364.6,405.6V401.8 M370.5,405.6V401.8 M376.4,405.6V401.8 M382.3,405.6V401.8 M388.2,405.6V401.8 M394.1,405.6V401.8 M399.9,405.6V401.8 M405.8,405.6V401.8" fill="none" stroke="#2a3642" stroke-width="2.06"/>
<path d="M239.6,409.8V406.0 M245.6,409.8V406.0 M251.6,409.8V406.0 M257.6,409.8V406.0 M263.6,409.8V406.0 M269.5,409.8V406.0 M275.5,409.8V406.0 M281.5,409.8V406.0 M287.5,409.8V406.0 M293.5,409.8V406.0 M299.5,409.8V406.0 M305.5,409.8V406.0 M311.5,409.8V406.0 M317.5,409.8V406.0 M323.5,409.8V406.0 M329.5,409.8V406.0 M335.5,409.8V406.0 M341.5,409.8V406.0 M347.5,409.8V406.0 M353.5,409.8V406.0 M359.4,409.8V406.0 M365.4,409.8V406.0 M371.4,409.8V406.0 M377.4,409.8V406.0 M383.4,409.8V406.0 M389.4,409.8V406.0 M395.4,409.8V406.0 M401.4,409.8V406.0 M407.4,409.8V406.0" fill="none" stroke="#2a3642" stroke-width="2.09"/>
<path d="M238.2,414.3V410.3 M244.3,414.3V410.3 M250.4,414.3V410.3 M256.5,414.3V410.3 M262.6,414.3V410.3 M268.7,414.3V410.3 M274.8,414.3V410.3 M280.9,414.3V410.3 M287.0,414.3V410.3 M293.1,414.3V410.3 M299.2,414.3V410.3 M305.3,414.3V410.3 M311.4,414.3V410.3 M317.5,414.3V410.3 M323.6,414.3V410.3 M329.7,414.3V410.3 M335.8,414.3V410.3 M341.9,414.3V410.3 M348.0,414.3V410.3 M354.1,414.3V410.3 M360.2,414.3V410.3 M366.3,414.3V410.3 M372.4,414.3V410.3 M378.5,414.3V410.3 M384.6,414.3V410.3 M390.7,414.3V410.3 M396.8,414.3V410.3 M402.9,414.3V410.3 M409.0,414.3V410.3" fill="none" stroke="#2a3642" stroke-width="2.13"/>
<path d="M236.7,418.8V414.7 M242.9,418.8V414.7 M249.1,418.8V414.7 M255.4,418.8V414.7 M261.6,418.8V414.7 M267.8,418.8V414.7 M274.0,418.8V414.7 M280.2,418.8V414.7 M286.4,418.8V414.7 M292.6,418.8V414.7 M298.8,418.8V414.7 M305.1,418.8V414.7 M311.3,418.8V414.7 M317.5,418.8V414.7 M323.7,418.8V414.7 M329.9,418.8V414.7 M336.1,418.8V414.7 M342.3,418.8V414.7 M348.6,418.8V414.7 M354.8,418.8V414.7 M361.0,418.8V414.7 M367.2,418.8V414.7 M373.4,418.8V414.7 M379.6,418.8V414.7 M385.8,418.8V414.7 M392.0,418.8V414.7 M398.3,418.8V414.7 M404.5,418.8V414.7 M410.7,418.8V414.7" fill="none" stroke="#2a3642" stroke-width="2.17"/>
<path d="M235.2,423.6V419.3 M241.5,423.6V419.3 M247.9,423.6V419.3 M254.2,423.6V419.3 M260.5,423.6V419.3 M266.9,423.6V419.3 M273.2,423.6V419.3 M279.5,423.6V419.3 M285.8,423.6V419.3 M292.2,423.6V419.3 M298.5,423.6V419.3 M304.8,423.6V419.3 M311.2,423.6V419.3 M317.5,423.6V419.3 M323.8,423.6V419.3 M330.1,423.6V419.3 M336.5,423.6V419.3 M342.8,423.6V419.3 M349.1,423.6V419.3 M355.5,423.6V419.3 M361.8,423.6V419.3 M368.1,423.6V419.3 M374.4,423.6V419.3 M380.8,423.6V419.3 M387.1,423.6V419.3 M393.4,423.6V419.3 M399.8,423.6V419.3 M406.1,423.6V419.3 M412.4,423.6V419.3" fill="none" stroke="#2a3642" stroke-width="2.21"/>
<path d="M344.1,368.7 L339.9,368.7 M343.2,366.0 L339.2,366.6 M341.2,363.5 L337.7,364.6 M338.4,361.4 L335.4,362.9 M334.7,359.7 L332.6,361.6 M330.6,358.5 L329.3,360.6 M326.1,358.0 L325.7,360.2 M321.6,358.0 L322.1,360.2 M317.1,358.5 L318.6,360.6 M313.1,359.7 L315.4,361.6 M309.5,361.4 L312.6,362.9 M306.8,363.5 L310.5,364.6 M305.0,366.0 L309.1,366.6 M304.2,368.7 L308.5,368.7 M304.6,371.5 L308.9,370.9 M306.2,374.2 L310.2,373.0 M308.9,376.6 L312.3,374.8 M312.6,378.6 L315.2,376.4 M317.1,380.0 L318.7,377.5 M322.0,380.7 L322.5,378.0 M327.1,380.7 L326.5,378.0 M332.0,380.0 L330.3,377.5 M336.4,378.6 L333.7,376.4 M340.0,376.6 L336.5,374.8 M342.5,374.2 L338.5,373.0 M343.9,371.5 L339.6,370.9 M339.2,367.3 L335.0,367.7 M337.5,364.8 L333.8,365.9 M334.5,362.7 L331.7,364.3 M330.6,361.2 L328.9,363.2 M326.2,360.4 L325.7,362.6 M321.6,360.4 L322.3,362.6 M317.2,361.2 L319.1,363.2 M313.5,362.7 L316.4,364.3 M310.7,364.8 L314.4,365.9 M309.1,367.3 L313.3,367.7 M309.0,370.1 L313.3,369.7 M310.4,372.8 L314.3,371.6 M313.2,375.1 L316.3,373.3 M317.2,376.8 L319.2,374.5 M322.0,377.7 L322.6,375.1 M327.0,377.7 L326.2,375.1 M331.7,376.8 L329.5,374.5 M335.6,375.1 L332.3,373.3 M338.2,372.8 L334.3,371.6 M339.5,370.1 L335.2,369.7 M334.9,368.7 L330.6,368.7 M333.6,366.1 L329.9,367.1 M330.6,364.0 L328.0,365.9 M326.3,362.9 L325.5,365.2 M321.7,362.9 L322.7,365.2 M317.5,364.0 L320.2,365.9 M314.6,366.1 L318.4,367.1 M313.5,368.7 L317.8,368.7 M314.5,371.4 L318.4,370.3 M317.5,373.6 L320.2,371.6 M321.9,374.8 L322.9,372.3 M326.8,374.8 L325.8,372.3 M331.2,373.6 L328.3,371.6 M334.0,371.4 L330.1,370.3 M329.8,367.5 L325.8,368.4 M327.1,365.7 L325.0,367.8 M323.0,365.3 L323.8,367.7 M319.5,366.5 L322.8,368.0 M318.1,368.7 L322.4,368.7 M319.6,371.0 L322.8,369.4 M323.2,372.2 L323.9,369.7 M327.4,371.7 L325.1,369.6 M330.0,369.9 L325.9,369.0" fill="none" stroke="#2a3642" stroke-width="1.3"/>
<ellipse cx="324.2" cy="369.0" rx="3.2" ry="2.4" fill="#2a3642"/>
</g>
<g id="plots">
<rect x="30.1" y="442.5" width="153.6" height="85.6" fill="#fff"/>
<line x1="30.1" y1="472.1" x2="183.7" y2="472.1" stroke="#111" stroke-width="1.1" stroke-dasharray="1.1 1.1"/>
<path d="M30.00,471.20 C32.50,471.10 40.33,470.80 45.00,470.60 C49.67,470.40 53.83,470.20 58.00,470.00 C62.17,469.80 66.67,469.70 70.00,469.40 C73.33,469.10 75.67,468.70 78.00,468.20 C80.33,467.70 82.33,467.17 84.00,466.40 C85.67,465.63 86.83,465.10 88.00,463.60 C89.17,462.10 90.17,459.63 91.00,457.40 C91.83,455.17 92.47,451.93 93.00,450.20 C93.53,448.47 93.80,447.73 94.20,447.00 C94.60,446.27 95.00,445.80 95.40,445.80 C95.80,445.80 96.20,446.05 96.60,447.00 C97.00,447.95 97.40,449.10 97.80,451.50 C98.20,453.90 98.63,458.40 99.00,461.40 C99.37,464.40 99.72,466.78 100.00,469.50 C100.28,472.22 100.43,474.95 100.70,477.70 C100.97,480.45 101.25,483.62 101.60,486.00 C101.95,488.38 102.30,490.37 102.80,492.00 C103.30,493.63 103.94,494.92 104.60,495.80 C105.26,496.68 106.03,497.30 106.75,497.30 C107.47,497.30 108.24,496.68 108.90,495.80 C109.56,494.92 110.20,493.63 110.70,492.00 C111.20,490.37 111.55,488.38 111.90,486.00 C112.25,483.62 112.53,480.45 112.80,477.70 C113.07,474.95 113.22,472.22 113.50,469.50 C113.78,466.78 114.13,464.40 114.50,461.40 C114.87,458.40 115.30,453.90 115.70,451.50 C116.10,449.10 116.50,447.95 116.90,447.00 C117.30,446.05 117.70,445.80 118.10,445.80 C118.50,445.80 118.90,446.27 119.30,447.00 C119.70,447.73 119.97,448.47 120.50,450.20 C121.03,451.93 121.67,455.17 122.50,457.40 C123.33,459.63 124.33,462.10 125.50,463.60 C126.67,465.10 127.83,465.63 129.50,466.40 C131.17,467.17 133.17,467.70 135.50,468.20 C137.83,468.70 140.17,469.10 143.50,469.40 C146.83,469.70 151.33,469.80 155.50,470.00 C159.67,470.20 163.83,470.40 168.50,470.60 C173.17,470.80 180.97,471.08 183.50,471.20 C186.03,471.32 183.67,471.28 183.70,471.30" fill="none" stroke="#e60012" stroke-width="2.1" stroke-linejoin="round"/>
<path d="M34.00,527.10 C39.67,527.02 60.17,526.78 68.00,526.60 C75.83,526.42 77.50,526.30 81.00,526.00 C84.50,525.70 86.75,525.72 89.00,524.80 C91.25,523.88 92.98,522.20 94.50,520.50 C96.02,518.80 97.02,516.85 98.10,514.60 C99.18,512.35 100.18,509.52 101.00,507.00 C101.82,504.48 102.40,502.17 103.00,499.50 C103.60,496.83 104.08,494.25 104.60,491.00 C105.12,487.75 105.68,483.83 106.10,480.00 C106.52,476.17 106.78,472.68 107.10,468.00 C107.42,463.32 107.85,454.58 108.00,451.90" fill="none" stroke="#0d9be8" stroke-width="2.1" stroke-linejoin="round"/>
<path d="M108.00,451.90 C108.15,454.58 108.58,463.32 108.90,468.00 C109.22,472.68 109.48,476.17 109.90,480.00 C110.32,483.83 110.88,487.75 111.40,491.00 C111.92,494.25 112.40,496.83 113.00,499.50 C113.60,502.17 114.18,504.48 115.00,507.00 C115.82,509.52 116.82,512.35 117.90,514.60 C118.98,516.85 119.98,518.80 121.50,520.50 C123.02,522.20 124.75,523.88 127.00,524.80 C129.25,525.72 131.50,525.70 135.00,526.00 C138.50,526.30 140.17,526.42 148.00,526.60 C155.83,526.78 176.05,527.02 182.00,527.10 C187.95,527.18 183.42,527.10 183.70,527.10" fill="none" stroke="#0d9be8" stroke-width="2.1" stroke-linejoin="round"/>
<line x1="30.1" y1="443.1" x2="183.7" y2="443.1" stroke="#3e3a39" stroke-width="1.3"/>
<line x1="30.1" y1="442.5" x2="30.1" y2="528.8" stroke="#2a2524" stroke-width="1.6"/>
<line x1="29.3" y1="528.1" x2="184.4" y2="528.1" stroke="#111" stroke-width="1.7"/>
<line x1="183.7" y1="442.1" x2="183.7" y2="528.8" stroke="#444" stroke-width="1.5"/>
<line x1="35.4" y1="528.1" x2="35.4" y2="531.1" stroke="#111" stroke-width="0.9"/>
<line x1="54.0" y1="528.1" x2="54.0" y2="531.1" stroke="#111" stroke-width="0.9"/>
<line x1="72.6" y1="528.1" x2="72.6" y2="531.1" stroke="#111" stroke-width="0.9"/>
<line x1="91.2" y1="528.1" x2="91.2" y2="531.1" stroke="#111" stroke-width="0.9"/>
<line x1="109.8" y1="528.1" x2="109.8" y2="531.1" stroke="#111" stroke-width="0.9"/>
<line x1="128.4" y1="528.1" x2="128.4" y2="531.1" stroke="#111" stroke-width="0.9"/>
<line x1="147.0" y1="528.1" x2="147.0" y2="531.1" stroke="#111" stroke-width="0.9"/>
<line x1="165.6" y1="528.1" x2="165.6" y2="531.1" stroke="#111" stroke-width="0.9"/>
<line x1="27.2" y1="451.6" x2="30" y2="451.6" stroke="#111" stroke-width="0.9"/>
<line x1="27.2" y1="527.3" x2="30" y2="527.3" stroke="#111" stroke-width="0.9"/>
<line x1="183.7" y1="471.9" x2="186.2" y2="471.9" stroke="#111" stroke-width="0.9"/>
<line x1="183.7" y1="508.7" x2="186.2" y2="508.7" stroke="#111" stroke-width="0.9"/>
<text x="17" y="456.3" font-size="16.5" font-style="italic">π</text>
<text x="6" y="493.5" font-size="17">θ</text>
<text x="19.6" y="531" font-size="12.5">0</text>
<text x="26.2" y="540.6" font-size="12">-40</text>
<text x="66.1" y="540.6" font-size="12">-20</text>
<text x="107.6" y="540.6" font-size="12">0</text>
<text x="141.0" y="540.6" font-size="12">20</text>
<text x="173" y="540.2" font-size="13" font-style="italic">ρ</text>
<text x="187" y="477" font-size="12.5">1.0</text>
<text x="187" y="512.6" font-size="12.5">0.6</text>
<text x="188.4" y="450.0" font-size="14" font-style="italic" stroke="#231815" stroke-width="0.4">m</text>
<line x1="186.4" y1="450.9" x2="200.4" y2="450.9" stroke="#999" stroke-width="0.7"/>
<text x="187.4" y="459.2" font-size="14" font-style="italic" stroke="#231815" stroke-width="0.4">m</text>
<text x="199.0" y="463.8" font-size="9.5" font-style="italic">0</text>
<text x="131.8" y="453.7" font-size="14" font-style="italic">m</text>
<line x1="131.2" y1="453.5" x2="124.2" y2="461.3" stroke="#111" stroke-width="1.3"/>
<text x="122.2" y="486.1" font-size="10.7" textLength="52.8" lengthAdjust="spacingAndGlyphs">homogeneous</text>
<text x="140" y="495.8" font-size="10.7" textLength="17.4" lengthAdjust="spacingAndGlyphs">state</text>
<line x1="124.7" y1="471.8" x2="127.1" y2="476.4" stroke="#111" stroke-width="1.4"/>
<text x="78.8" y="507.3" font-size="16">θ</text>
<line x1="88.9" y1="510.4" x2="94.9" y2="519.4" stroke="#111" stroke-width="1.1"/>
<rect x="241.3" y="442.0" width="166.3" height="86.9" fill="#fff"/>
<rect x="348.4" y="491" width="12.7" height="37.9" fill="#f2aeb0"/>
<rect x="361.1" y="491" width="13.4" height="37.9" fill="#c6bff4"/>
<rect x="374.5" y="491" width="12.7" height="37.9" fill="#f2aeb0"/>
<rect x="387.2" y="491" width="12.7" height="37.9" fill="#c6bff4"/>
<rect x="399.9" y="491" width="7.7" height="37.9" fill="#f2aeb0"/>
<line x1="348.4" y1="491" x2="348.4" y2="528.9" stroke="#333" stroke-width="0.5" stroke-dasharray="1 0.8"/>
<line x1="361.1" y1="491" x2="361.1" y2="528.9" stroke="#333" stroke-width="0.5" stroke-dasharray="1 0.8"/>
<line x1="374.5" y1="491" x2="374.5" y2="528.9" stroke="#333" stroke-width="0.5" stroke-dasharray="1 0.8"/>
<line x1="387.2" y1="491" x2="387.2" y2="528.9" stroke="#333" stroke-width="0.5" stroke-dasharray="1 0.8"/>
<line x1="399.9" y1="491" x2="399.9" y2="528.9" stroke="#333" stroke-width="0.5" stroke-dasharray="1 0.8"/>
<line x1="241.3" y1="491" x2="407.6" y2="491" stroke="#111" stroke-width="1.1" stroke-dasharray="1.1 1.1"/>
<line x1="241.3" y1="519.6" x2="407.6" y2="519.6" stroke="#111" stroke-width="1.1" stroke-dasharray="1.1 1.1"/>
<path d="M240.90,491.00 C241.75,491.00 244.32,491.27 246.00,491.00 C247.68,490.73 249.58,489.98 251.00,489.40 C252.42,488.82 253.52,487.88 254.50,487.50 C255.48,487.12 256.07,487.05 256.90,487.10 C257.73,487.15 258.48,487.12 259.50,487.80 C260.52,488.48 261.75,489.90 263.00,491.20 C264.25,492.50 265.90,494.72 267.00,495.60 C268.10,496.48 268.68,496.60 269.60,496.50 C270.52,496.40 271.43,496.33 272.50,495.00 C273.57,493.67 274.78,491.03 276.00,488.50 C277.22,485.97 278.75,481.60 279.80,479.80 C280.85,478.00 281.47,477.70 282.30,477.70 C283.13,477.70 283.85,477.58 284.80,479.80 C285.75,482.02 286.83,486.63 288.00,491.00 C289.17,495.37 290.52,502.28 291.80,506.00 C293.08,509.72 294.42,513.47 295.70,513.30 C296.98,513.13 298.28,510.22 299.50,505.00 C300.72,499.78 301.92,489.50 303.00,482.00 C304.08,474.50 304.93,465.62 306.00,460.00 C307.07,454.38 308.23,448.30 309.40,448.30 C310.57,448.30 311.82,454.05 313.00,460.00 C314.18,465.95 315.33,476.83 316.50,484.00 C317.67,491.17 318.58,498.25 320.00,503.00 C321.42,507.75 323.33,512.50 325.00,512.50 C326.67,512.50 328.58,507.75 330.00,503.00 C331.42,498.25 332.33,491.17 333.50,484.00 C334.67,476.83 335.82,465.95 337.00,460.00 C338.18,454.05 339.43,448.30 340.60,448.30 C341.77,448.30 342.93,454.38 344.00,460.00 C345.07,465.62 345.92,474.50 347.00,482.00 C348.08,489.50 349.28,499.78 350.50,505.00 C351.72,510.22 353.02,513.13 354.30,513.30 C355.58,513.47 356.92,509.72 358.20,506.00 C359.48,502.28 360.83,495.37 362.00,491.00 C363.17,486.63 364.25,482.02 365.20,479.80 C366.15,477.58 366.87,477.70 367.70,477.70 C368.53,477.70 369.15,478.00 370.20,479.80 C371.25,481.60 372.78,485.97 374.00,488.50 C375.22,491.03 376.43,493.67 377.50,495.00 C378.57,496.33 379.48,496.40 380.40,496.50 C381.32,496.60 381.90,496.48 383.00,495.60 C384.10,494.72 385.75,492.50 387.00,491.20 C388.25,489.90 389.48,488.48 390.50,487.80 C391.52,487.12 392.27,487.15 393.10,487.10 C393.93,487.05 394.52,487.12 395.50,487.50 C396.48,487.88 397.58,488.82 399.00,489.40 C400.42,489.98 402.57,490.73 404.00,491.00 C405.43,491.27 407.00,491.00 407.60,491.00" fill="none" stroke="#e60012" stroke-width="2.1" stroke-linejoin="round"/>
<path d="M240.90,519.60 C241.92,519.65 244.98,519.75 247.00,519.90 C249.02,520.05 251.08,520.58 253.00,520.50 C254.92,520.42 256.58,519.82 258.50,519.40 C260.42,518.98 262.58,517.93 264.50,518.00 C266.42,518.07 268.08,519.23 270.00,519.80 C271.92,520.37 273.83,521.57 276.00,521.40 C278.17,521.23 280.67,519.78 283.00,518.80 C285.33,517.82 287.83,515.30 290.00,515.50 C292.17,515.70 293.90,518.25 296.00,520.00 C298.10,521.75 300.60,526.17 302.60,526.00 C304.60,525.83 306.43,522.17 308.00,519.00 C309.57,515.83 310.58,511.67 312.00,507.00 C313.42,502.33 315.17,496.67 316.50,491.00 C317.83,485.33 318.92,478.83 320.00,473.00 C321.08,467.17 322.13,460.08 323.00,456.00 C323.87,451.92 324.83,449.75 325.20,448.50" fill="none" stroke="#0d9be8" stroke-width="2.1" stroke-linejoin="round"/>
<path d="M325.20,448.50 C325.57,449.75 326.53,451.92 327.40,456.00 C328.27,460.08 329.32,467.17 330.40,473.00 C331.48,478.83 332.57,485.33 333.90,491.00 C335.23,496.67 336.98,502.33 338.40,507.00 C339.82,511.67 340.83,515.83 342.40,519.00 C343.97,522.17 345.80,525.83 347.80,526.00 C349.80,526.17 352.30,521.75 354.40,520.00 C356.50,518.25 358.23,515.70 360.40,515.50 C362.57,515.30 365.07,517.82 367.40,518.80 C369.73,519.78 372.23,521.23 374.40,521.40 C376.57,521.57 378.48,520.37 380.40,519.80 C382.32,519.23 383.98,518.07 385.90,518.00 C387.82,517.93 389.98,518.98 391.90,519.40 C393.82,519.82 395.48,520.42 397.40,520.50 C399.32,520.58 401.70,520.08 403.40,519.90 C405.10,519.72 406.90,519.48 407.60,519.40" fill="none" stroke="#0d9be8" stroke-width="2.1" stroke-linejoin="round"/>
<line x1="241.3" y1="442.0" x2="407.6" y2="442.0" stroke="#3e3a39" stroke-width="1.3"/>
<line x1="241.3" y1="441.4" x2="241.3" y2="529.6" stroke="#2a2524" stroke-width="1.6"/>
<line x1="240.5" y1="528.9" x2="408.9" y2="528.9" stroke="#111" stroke-width="1.9"/>
<line x1="408.1" y1="441.4" x2="408.1" y2="529.6" stroke="#2a2524" stroke-width="1.7"/>
<line x1="243.8" y1="528.9" x2="243.8" y2="531.5" stroke="#111" stroke-width="0.9"/>
<line x1="264.2" y1="528.9" x2="264.2" y2="531.5" stroke="#111" stroke-width="0.9"/>
<line x1="284.7" y1="528.9" x2="284.7" y2="531.5" stroke="#111" stroke-width="0.9"/>
<line x1="305.2" y1="528.9" x2="305.2" y2="531.5" stroke="#111" stroke-width="0.9"/>
<line x1="325.6" y1="528.9" x2="325.6" y2="531.5" stroke="#111" stroke-width="0.9"/>
<line x1="346.1" y1="528.9" x2="346.1" y2="531.5" stroke="#111" stroke-width="0.9"/>
<line x1="366.5" y1="528.9" x2="366.5" y2="531.5" stroke="#111" stroke-width="0.9"/>
<line x1="387.0" y1="528.9" x2="387.0" y2="531.5" stroke="#111" stroke-width="0.9"/>
<line x1="407.6" y1="491" x2="410.2" y2="491" stroke="#111" stroke-width="1"/>
<line x1="407.6" y1="512.5" x2="410.2" y2="512.5" stroke="#111" stroke-width="1"/>
<text x="226" y="454.3" font-size="16.5" font-style="italic">π</text>
<text x="218.4" y="488" font-size="18">θ</text>
<text x="227.5" y="523.6" font-size="12">0</text>
<text x="234.2" y="542.2" font-size="12">-40</text>
<text x="276.2" y="542.2" font-size="12">-20</text>
<text x="322.4" y="542.2" font-size="12">0</text>
<text x="361.6" y="542.2" font-size="12">20</text>
<text x="403.7" y="541.4" font-size="13" font-style="italic">ρ</text>
<text x="411.8" y="493.8" font-size="12.5">1.0</text>
<text x="411.8" y="515.8" font-size="12.5">0.8</text>
<text x="414.7" y="445.8" font-size="14" font-style="italic" stroke="#231815" stroke-width="0.4">m</text>
<line x1="411.9" y1="447.1" x2="426.7" y2="447.1" stroke="#999" stroke-width="0.7"/>
<text x="412.9" y="454.9" font-size="14" font-style="italic" stroke="#231815" stroke-width="0.4">m</text>
<text x="424.8" y="459.3" font-size="9.5" font-style="italic">0</text>
<text x="263.4" y="470" font-size="13" font-style="italic">m</text>
<line x1="271.3" y1="472.6" x2="278.5" y2="480.8" stroke="#111" stroke-width="1.1"/>
<text x="247.2" y="511.8" font-size="15">θ</text>
<line x1="254.3" y1="509.2" x2="262" y2="518.3" stroke="#111" stroke-width="1.1"/>
<text x="349.2" y="458.3" font-size="10.7" textLength="53" lengthAdjust="spacingAndGlyphs">homogeneous</text>
<text x="366.7" y="468.9" font-size="10.7" textLength="17.8" lengthAdjust="spacingAndGlyphs">state</text>
<line x1="357.3" y1="462.8" x2="353.7" y2="489.5" stroke="#111" stroke-width="1.3"/>
</g>
</svg>
</body></html>
